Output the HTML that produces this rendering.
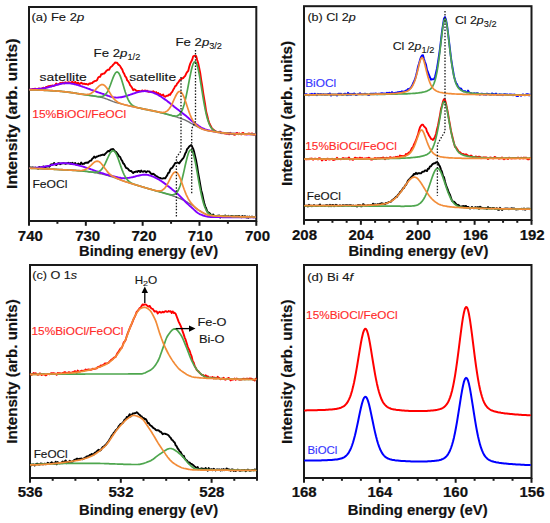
<!DOCTYPE html>
<html><head><meta charset="utf-8"><style>
html,body{margin:0;padding:0;background:#fff;width:550px;height:523px;overflow:hidden}
svg{display:block}
text{font-family:"Liberation Sans",sans-serif;stroke-width:0.25px}
.tl{font-size:14px;font-weight:bold;text-anchor:middle;fill:#111;stroke:#111;stroke-width:0.2px}
.xt{font-size:14.7px;font-weight:bold;text-anchor:middle;fill:#111;stroke:#111;stroke-width:0.2px}
.yt{font-size:14.6px;font-weight:bold;text-anchor:middle;fill:#111;stroke:#111;stroke-width:0.2px}
</style></head><body>
<svg width="550" height="523" viewBox="0 0 550 523">
<rect width="550" height="523" fill="#fff"/>
<rect x="29" y="7" width="227.30" height="214.00" fill="none" stroke="#1a1a1a" stroke-width="2"/>
<line x1="29.00" y1="221" x2="29.00" y2="225.80" stroke="#1a1a1a" stroke-width="2"/>
<line x1="57.41" y1="221" x2="57.41" y2="223.80" stroke="#1a1a1a" stroke-width="2"/>
<line x1="85.83" y1="221" x2="85.83" y2="225.80" stroke="#1a1a1a" stroke-width="2"/>
<line x1="114.24" y1="221" x2="114.24" y2="223.80" stroke="#1a1a1a" stroke-width="2"/>
<line x1="142.65" y1="221" x2="142.65" y2="225.80" stroke="#1a1a1a" stroke-width="2"/>
<line x1="171.06" y1="221" x2="171.06" y2="223.80" stroke="#1a1a1a" stroke-width="2"/>
<line x1="199.48" y1="221" x2="199.48" y2="225.80" stroke="#1a1a1a" stroke-width="2"/>
<line x1="227.89" y1="221" x2="227.89" y2="223.80" stroke="#1a1a1a" stroke-width="2"/>
<line x1="256.30" y1="221" x2="256.30" y2="225.80" stroke="#1a1a1a" stroke-width="2"/>
<text x="30.3" y="240.6" class="tl" textLength="25" lengthAdjust="spacingAndGlyphs">740</text>
<text x="87.7" y="240.6" class="tl" textLength="25" lengthAdjust="spacingAndGlyphs">730</text>
<text x="144" y="240.6" class="tl" textLength="25" lengthAdjust="spacingAndGlyphs">720</text>
<text x="200.3" y="240.6" class="tl" textLength="25" lengthAdjust="spacingAndGlyphs">710</text>
<text x="257.5" y="240.6" class="tl" textLength="25" lengthAdjust="spacingAndGlyphs">700</text>
<rect x="304" y="6.2" width="227.50" height="213.80" fill="none" stroke="#1a1a1a" stroke-width="2"/>
<line x1="304.00" y1="220" x2="304.00" y2="224.80" stroke="#1a1a1a" stroke-width="2"/>
<line x1="318.22" y1="220" x2="318.22" y2="222.80" stroke="#1a1a1a" stroke-width="2"/>
<line x1="332.44" y1="220" x2="332.44" y2="222.80" stroke="#1a1a1a" stroke-width="2"/>
<line x1="346.66" y1="220" x2="346.66" y2="222.80" stroke="#1a1a1a" stroke-width="2"/>
<line x1="360.88" y1="220" x2="360.88" y2="224.80" stroke="#1a1a1a" stroke-width="2"/>
<line x1="375.09" y1="220" x2="375.09" y2="222.80" stroke="#1a1a1a" stroke-width="2"/>
<line x1="389.31" y1="220" x2="389.31" y2="222.80" stroke="#1a1a1a" stroke-width="2"/>
<line x1="403.53" y1="220" x2="403.53" y2="222.80" stroke="#1a1a1a" stroke-width="2"/>
<line x1="417.75" y1="220" x2="417.75" y2="224.80" stroke="#1a1a1a" stroke-width="2"/>
<line x1="431.97" y1="220" x2="431.97" y2="222.80" stroke="#1a1a1a" stroke-width="2"/>
<line x1="446.19" y1="220" x2="446.19" y2="222.80" stroke="#1a1a1a" stroke-width="2"/>
<line x1="460.41" y1="220" x2="460.41" y2="222.80" stroke="#1a1a1a" stroke-width="2"/>
<line x1="474.62" y1="220" x2="474.62" y2="224.80" stroke="#1a1a1a" stroke-width="2"/>
<line x1="488.84" y1="220" x2="488.84" y2="222.80" stroke="#1a1a1a" stroke-width="2"/>
<line x1="503.06" y1="220" x2="503.06" y2="222.80" stroke="#1a1a1a" stroke-width="2"/>
<line x1="517.28" y1="220" x2="517.28" y2="222.80" stroke="#1a1a1a" stroke-width="2"/>
<line x1="531.50" y1="220" x2="531.50" y2="224.80" stroke="#1a1a1a" stroke-width="2"/>
<text x="304.5" y="239.5" class="tl" textLength="25" lengthAdjust="spacingAndGlyphs">208</text>
<text x="361" y="239.5" class="tl" textLength="25" lengthAdjust="spacingAndGlyphs">204</text>
<text x="418.3" y="239.5" class="tl" textLength="25" lengthAdjust="spacingAndGlyphs">200</text>
<text x="475.6" y="239.5" class="tl" textLength="25" lengthAdjust="spacingAndGlyphs">196</text>
<text x="532.2" y="239.5" class="tl" textLength="25" lengthAdjust="spacingAndGlyphs">192</text>
<rect x="30" y="265" width="227.00" height="213.00" fill="none" stroke="#1a1a1a" stroke-width="2"/>
<line x1="30.00" y1="478" x2="30.00" y2="482.80" stroke="#1a1a1a" stroke-width="2"/>
<line x1="52.70" y1="478" x2="52.70" y2="480.80" stroke="#1a1a1a" stroke-width="2"/>
<line x1="75.40" y1="478" x2="75.40" y2="480.80" stroke="#1a1a1a" stroke-width="2"/>
<line x1="98.10" y1="478" x2="98.10" y2="480.80" stroke="#1a1a1a" stroke-width="2"/>
<line x1="120.80" y1="478" x2="120.80" y2="482.80" stroke="#1a1a1a" stroke-width="2"/>
<line x1="143.50" y1="478" x2="143.50" y2="480.80" stroke="#1a1a1a" stroke-width="2"/>
<line x1="166.20" y1="478" x2="166.20" y2="480.80" stroke="#1a1a1a" stroke-width="2"/>
<line x1="188.90" y1="478" x2="188.90" y2="480.80" stroke="#1a1a1a" stroke-width="2"/>
<line x1="211.60" y1="478" x2="211.60" y2="482.80" stroke="#1a1a1a" stroke-width="2"/>
<line x1="234.30" y1="478" x2="234.30" y2="480.80" stroke="#1a1a1a" stroke-width="2"/>
<line x1="257.00" y1="478" x2="257.00" y2="480.80" stroke="#1a1a1a" stroke-width="2"/>
<text x="30.2" y="497.4" class="tl" textLength="25" lengthAdjust="spacingAndGlyphs">536</text>
<text x="121" y="497.4" class="tl" textLength="25" lengthAdjust="spacingAndGlyphs">532</text>
<text x="211.8" y="497.4" class="tl" textLength="25" lengthAdjust="spacingAndGlyphs">528</text>
<rect x="304" y="265" width="227.50" height="213.00" fill="none" stroke="#1a1a1a" stroke-width="2"/>
<line x1="304.00" y1="478" x2="304.00" y2="482.80" stroke="#1a1a1a" stroke-width="2"/>
<line x1="322.96" y1="478" x2="322.96" y2="480.80" stroke="#1a1a1a" stroke-width="2"/>
<line x1="341.92" y1="478" x2="341.92" y2="480.80" stroke="#1a1a1a" stroke-width="2"/>
<line x1="360.88" y1="478" x2="360.88" y2="480.80" stroke="#1a1a1a" stroke-width="2"/>
<line x1="379.83" y1="478" x2="379.83" y2="482.80" stroke="#1a1a1a" stroke-width="2"/>
<line x1="398.79" y1="478" x2="398.79" y2="480.80" stroke="#1a1a1a" stroke-width="2"/>
<line x1="417.75" y1="478" x2="417.75" y2="480.80" stroke="#1a1a1a" stroke-width="2"/>
<line x1="436.71" y1="478" x2="436.71" y2="480.80" stroke="#1a1a1a" stroke-width="2"/>
<line x1="455.67" y1="478" x2="455.67" y2="482.80" stroke="#1a1a1a" stroke-width="2"/>
<line x1="474.62" y1="478" x2="474.62" y2="480.80" stroke="#1a1a1a" stroke-width="2"/>
<line x1="493.58" y1="478" x2="493.58" y2="480.80" stroke="#1a1a1a" stroke-width="2"/>
<line x1="512.54" y1="478" x2="512.54" y2="480.80" stroke="#1a1a1a" stroke-width="2"/>
<line x1="531.50" y1="478" x2="531.50" y2="482.80" stroke="#1a1a1a" stroke-width="2"/>
<text x="304.2" y="497.4" class="tl" textLength="25" lengthAdjust="spacingAndGlyphs">168</text>
<text x="379.9" y="497.4" class="tl" textLength="25" lengthAdjust="spacingAndGlyphs">164</text>
<text x="455.5" y="497.4" class="tl" textLength="25" lengthAdjust="spacingAndGlyphs">160</text>
<text x="532" y="497.4" class="tl" textLength="25" lengthAdjust="spacingAndGlyphs">156</text>
<text x="148.6" y="255.6" class="xt" textLength="139" lengthAdjust="spacingAndGlyphs">Binding energy (eV)</text>
<text x="418.4" y="256.2" class="xt" textLength="140" lengthAdjust="spacingAndGlyphs">Binding energy (eV)</text>
<text x="148.6" y="514.6" class="xt" textLength="139" lengthAdjust="spacingAndGlyphs">Binding energy (eV)</text>
<text x="417.7" y="515.4" class="xt" textLength="140" lengthAdjust="spacingAndGlyphs">Binding energy (eV)</text>
<text transform="translate(17.0,113.65) rotate(-90)" x="0" y="0" class="yt" textLength="150.49999999999997" lengthAdjust="spacingAndGlyphs">Intensity (arb. units)</text>
<text transform="translate(292.4,113.50000000000001) rotate(-90)" x="0" y="0" class="yt" textLength="145.0" lengthAdjust="spacingAndGlyphs">Intensity (arb. units)</text>
<text transform="translate(17.0,371.45) rotate(-90)" x="0" y="0" class="yt" textLength="144.49999999999997" lengthAdjust="spacingAndGlyphs">Intensity (arb. units)</text>
<text transform="translate(292.4,371.75) rotate(-90)" x="0" y="0" class="yt" textLength="144.50000000000003" lengthAdjust="spacingAndGlyphs">Intensity (arb. units)</text>
<path d="M30.2,89.5 L31.2,89.6 L32.2,89.2 L33.2,88.9 L34.2,89.0 L35.2,88.7 L36.2,89.2 L37.2,89.8 L38.2,88.7 L39.2,88.5 L40.2,89.0 L41.2,88.8 L42.2,88.5 L43.2,87.7 L44.2,88.1 L45.2,88.3 L46.2,86.9 L47.2,87.2 L48.2,86.2 L49.2,86.3 L50.2,85.7 L51.2,86.3 L52.2,85.4 L53.2,86.0 L54.2,85.6 L55.2,85.2 L56.2,83.6 L57.2,84.4 L58.2,84.3 L59.2,84.1 L60.2,83.0 L61.2,83.3 L62.2,82.8 L63.2,82.7 L64.2,83.5 L65.2,82.3 L66.2,82.6 L67.2,83.1 L68.2,82.2 L69.2,82.4 L70.2,82.6 L71.2,82.6 L72.2,81.9 L73.2,82.6 L74.2,83.4 L75.2,81.9 L76.2,83.3 L77.2,83.0 L78.2,82.6 L79.2,84.2 L80.2,83.6 L81.2,82.7 L82.2,83.5 L83.2,83.9 L84.2,83.6 L85.2,84.2 L86.2,83.9 L87.2,84.3 L88.2,84.7 L89.2,83.5 L90.2,83.8 L91.2,83.1 L92.2,83.1 L93.2,81.8 L94.2,81.5 L95.2,80.9 L96.2,80.7 L97.2,79.9 L98.2,77.5 L99.2,76.9 L100.2,76.7 L101.2,74.3 L102.2,74.2 L103.2,73.6 L104.2,73.5 L105.2,72.5 L106.2,71.1 L107.2,70.3 L108.2,69.6 L109.2,69.7 L110.2,67.7 L111.2,66.7 L112.2,66.0 L113.2,64.6 L114.2,63.6 L115.2,62.4 L116.2,62.8 L117.2,62.8 L118.2,64.4 L119.2,65.1 L120.2,66.1 L121.2,68.1 L122.2,69.4 L123.2,72.2 L124.2,73.8 L125.2,76.3 L126.2,77.4 L127.2,80.4 L128.2,81.3 L129.2,82.9 L130.2,85.4 L131.2,86.4 L132.2,88.1 L133.2,90.2 L134.2,89.2 L135.2,89.8 L136.2,90.7 L137.2,91.1 L138.2,90.9 L139.2,90.9 L140.2,91.4 L141.2,91.3 L142.2,90.4 L143.2,91.0 L144.2,91.0 L145.2,90.4 L146.2,91.2 L147.2,90.7 L148.2,91.8 L149.2,91.6 L150.2,91.7 L151.2,91.6 L152.2,92.1 L153.2,91.3 L154.2,92.1 L155.2,93.2 L156.2,92.1 L157.2,94.1 L158.2,93.0 L159.2,94.7 L160.2,94.1 L161.2,95.3 L162.2,95.3 L163.2,94.6 L164.2,96.4 L165.2,96.7 L166.2,95.9 L167.2,95.7 L168.2,95.5 L169.2,94.5 L170.2,94.8 L171.2,92.9 L172.2,91.8 L173.2,89.8 L174.2,88.2 L175.2,86.1 L176.2,85.7 L177.2,83.4 L178.2,82.6 L179.2,80.9 L180.2,79.6 L181.2,79.1 L182.2,78.4 L183.2,78.0 L184.2,76.9 L185.2,75.8 L186.2,73.6 L187.2,72.0 L188.2,70.9 L189.2,66.9 L190.2,63.7 L191.2,61.7 L192.2,59.8 L193.2,56.3 L194.2,55.9 L195.2,55.7 L196.2,56.2 L197.2,60.0 L198.2,63.2 L199.2,67.9 L200.2,73.0 L201.2,79.9 L202.2,86.0 L203.2,93.0 L204.2,99.0 L205.2,105.0 L206.2,111.8 L207.2,115.5 L208.2,119.8 L209.2,122.8 L210.2,125.0 L211.2,126.9 L212.2,128.9 L213.2,129.4 L214.2,130.3 L215.2,131.0 L216.2,132.0 L217.2,132.1 L218.2,132.2 L219.2,131.9 L220.2,131.6 L221.2,133.1 L222.2,133.2 L223.2,132.8 L224.2,133.3 L225.2,133.5 L226.2,133.6 L227.2,133.8 L228.2,133.1 L229.2,134.3 L230.2,132.8 L231.2,134.0 L232.2,133.9 L233.2,134.1 L234.2,134.7 L235.2,134.6 L236.2,133.2 L237.2,132.9 L238.2,134.3 L239.2,133.4 L240.2,134.0 L241.2,134.5 L242.2,133.1 L243.2,132.9 L244.2,134.2 L245.2,134.2 L246.2,134.0 L247.2,134.2 L248.2,133.7 L249.2,133.4 L250.2,134.2 L251.2,133.7 L252.2,133.4 L253.2,134.6 L254.2,134.3 L255.2,134.5" fill="none" stroke="#ff0000" stroke-width="1.9" stroke-linejoin="round" stroke-linecap="round" />
<path d="M30.2,89.8 L31.2,89.8 L32.2,89.8 L33.2,89.8 L34.2,89.9 L35.2,89.9 L36.2,89.9 L37.2,89.9 L38.2,90.0 L39.2,90.0 L40.2,90.1 L41.2,90.1 L42.2,90.1 L43.2,90.2 L44.2,90.3 L45.2,90.3 L46.2,90.4 L47.2,90.4 L48.2,90.5 L49.2,90.5 L50.2,90.6 L51.2,90.7 L52.2,90.7 L53.2,90.8 L54.2,90.9 L55.2,91.0 L56.2,91.0 L57.2,91.1 L58.2,91.2 L59.2,91.2 L60.2,91.3 L61.2,91.4 L62.2,91.5 L63.2,91.6 L64.2,91.7 L65.2,91.8 L66.2,91.9 L67.2,92.0 L68.2,92.2 L69.2,92.3 L70.2,92.4 L71.2,92.6 L72.2,92.7 L73.2,92.9 L74.2,93.0 L75.2,93.2 L76.2,93.3 L77.2,93.5 L78.2,93.6 L79.2,93.8 L80.2,94.0 L81.2,94.1 L82.2,94.3 L83.2,94.4 L84.2,94.6 L85.2,94.7 L86.2,94.9 L87.2,95.0 L88.2,95.2 L89.2,95.3 L90.2,95.5 L91.2,95.6 L92.2,95.8 L93.2,95.9 L94.2,96.1 L95.2,96.2 L96.2,96.4 L97.2,96.6 L98.2,96.8 L99.2,96.9 L100.2,97.2 L101.2,97.4 L102.2,97.6 L103.2,97.9 L104.2,98.2 L105.2,98.5 L106.2,98.8 L107.2,99.2 L108.2,99.6 L109.2,100.0 L110.2,100.4 L111.2,100.8 L112.2,101.2 L113.2,101.6 L114.2,101.9 L115.2,102.3 L116.2,102.6 L117.2,102.8 L118.2,103.1 L119.2,103.4 L120.2,103.6 L121.2,103.9 L122.2,104.2 L123.2,104.4 L124.2,104.6 L125.2,104.9 L126.2,105.1 L127.2,105.3 L128.2,105.6 L129.2,105.8 L130.2,106.0 L131.2,106.3 L132.2,106.5 L133.2,106.7 L134.2,106.9 L135.2,107.2 L136.2,107.4 L137.2,107.6 L138.2,107.8 L139.2,108.0 L140.2,108.2 L141.2,108.5 L142.2,108.7 L143.2,108.9 L144.2,109.1 L145.2,109.3 L146.2,109.5 L147.2,109.7 L148.2,109.9 L149.2,110.1 L150.2,110.3 L151.2,110.5 L152.2,110.7 L153.2,110.9 L154.2,111.1 L155.2,111.3 L156.2,111.5 L157.2,111.8 L158.2,112.0 L159.2,112.2 L160.2,112.5 L161.2,112.7 L162.2,112.9 L163.2,113.2 L164.2,113.5 L165.2,113.7 L166.2,114.0 L167.2,114.3 L168.2,114.5 L169.2,114.8 L170.2,115.1 L171.2,115.4 L172.2,115.7 L173.2,116.0 L174.2,116.3 L175.2,116.6 L176.2,116.9 L177.2,117.2 L178.2,117.6 L179.2,117.9 L180.2,118.2 L181.2,118.6 L182.2,118.9 L183.2,119.3 L184.2,119.7 L185.2,120.1 L186.2,120.6 L187.2,121.1 L188.2,121.6 L189.2,122.2 L190.2,122.8 L191.2,123.4 L192.2,123.9 L193.2,124.5 L194.2,125.0 L195.2,125.5 L196.2,126.1 L197.2,126.6 L198.2,127.2 L199.2,127.7 L200.2,128.2 L201.2,128.6 L202.2,129.1 L203.2,129.4 L204.2,129.7 L205.2,130.0 L206.2,130.3 L207.2,130.5 L208.2,130.7 L209.2,130.9 L210.2,131.1 L211.2,131.2 L212.2,131.4 L213.2,131.5 L214.2,131.7 L215.2,131.8 L216.2,132.0 L217.2,132.1 L218.2,132.3 L219.2,132.4 L220.2,132.5 L221.2,132.7 L222.2,132.8 L223.2,132.9 L224.2,133.0 L225.2,133.1 L226.2,133.2 L227.2,133.3 L228.2,133.4 L229.2,133.5 L230.2,133.5 L231.2,133.6 L232.2,133.6 L233.2,133.7 L234.2,133.7 L235.2,133.8 L236.2,133.8 L237.2,133.8 L238.2,133.9 L239.2,133.9 L240.2,134.0 L241.2,134.0 L242.2,134.0 L243.2,134.1 L244.2,134.1 L245.2,134.1 L246.2,134.2 L247.2,134.2 L248.2,134.2 L249.2,134.2 L250.2,134.2 L251.2,134.3 L252.2,134.3 L253.2,134.3 L254.2,134.3 L255.2,134.3" fill="none" stroke="#707070" stroke-width="1.4" stroke-linejoin="round" stroke-linecap="round" />
<path d="M30.2,89.5 L31.2,89.5 L32.2,89.4 L33.2,89.3 L34.2,89.3 L35.2,89.2 L36.2,89.1 L37.2,89.0 L38.2,88.9 L39.2,88.8 L40.2,88.7 L41.2,88.6 L42.2,88.4 L43.2,88.3 L44.2,88.1 L45.2,87.9 L46.2,87.7 L47.2,87.5 L48.2,87.2 L49.2,87.0 L50.2,86.7 L51.2,86.5 L52.2,86.2 L53.2,85.9 L54.2,85.6 L55.2,85.3 L56.2,85.0 L57.2,84.8 L58.2,84.5 L59.2,84.2 L60.2,84.0 L61.2,83.8 L62.2,83.6 L63.2,83.4 L64.2,83.3 L65.2,83.2 L66.2,83.2 L67.2,83.2 L68.2,83.2 L69.2,83.3 L70.2,83.4 L71.2,83.6 L72.2,83.8 L73.2,83.9 L74.2,84.2 L75.2,84.4 L76.2,84.7 L77.2,84.9 L78.2,85.2 L79.2,85.5 L80.2,85.8 L81.2,86.2 L82.2,86.5 L83.2,86.9 L84.2,87.2 L85.2,87.6 L86.2,87.9 L87.2,88.3 L88.2,88.7 L89.2,89.0 L90.2,89.4 L91.2,89.8 L92.2,90.1 L93.2,90.5 L94.2,90.9 L95.2,91.2 L96.2,91.6 L97.2,92.0 L98.2,92.3 L99.2,92.7 L100.2,93.0 L101.2,93.3 L102.2,93.7 L103.2,94.0 L104.2,94.4 L105.2,94.8 L106.2,95.2 L107.2,95.5 L108.2,95.9 L109.2,96.2 L110.2,96.6 L111.2,96.8 L112.2,97.1 L113.2,97.3 L114.2,97.4 L115.2,97.5 L116.2,97.6 L117.2,97.6 L118.2,97.5 L119.2,97.4 L120.2,97.3 L121.2,97.2 L122.2,97.0 L123.2,96.8 L124.2,96.5 L125.2,96.3 L126.2,96.0 L127.2,95.7 L128.2,95.3 L129.2,95.0 L130.2,94.7 L131.2,94.3 L132.2,94.0 L133.2,93.6 L134.2,93.3 L135.2,93.0 L136.2,92.7 L137.2,92.4 L138.2,92.1 L139.2,91.8 L140.2,91.6 L141.2,91.4 L142.2,91.3 L143.2,91.2 L144.2,91.1 L145.2,91.1 L146.2,91.2 L147.2,91.2 L148.2,91.4 L149.2,91.6 L150.2,91.8 L151.2,92.1 L152.2,92.4 L153.2,92.7 L154.2,93.1 L155.2,93.5 L156.2,94.0 L157.2,94.5 L158.2,95.0 L159.2,95.6 L160.2,96.2 L161.2,96.8 L162.2,97.5 L163.2,98.2 L164.2,98.9 L165.2,99.6 L166.2,100.3 L167.2,101.1 L168.2,101.9 L169.2,102.6 L170.2,103.4 L171.2,104.2 L172.2,105.0 L173.2,105.8 L174.2,106.7 L175.2,107.5 L176.2,108.3 L177.2,109.1 L178.2,109.8 L179.2,110.6 L180.2,111.4 L181.2,112.2 L182.2,112.9 L183.2,113.7 L184.2,114.5 L185.2,115.3 L186.2,116.1 L187.2,116.9 L188.2,117.8 L189.2,118.7 L190.2,119.6 L191.2,120.4 L192.2,121.2 L193.2,122.0 L194.2,122.7 L195.2,123.5 L196.2,124.2 L197.2,124.9 L198.2,125.6 L199.2,126.3 L200.2,126.9 L201.2,127.5 L202.2,128.0 L203.2,128.5 L204.2,128.9 L205.2,129.3 L206.2,129.6 L207.2,129.9 L208.2,130.2 L209.2,130.4 L210.2,130.7 L211.2,130.9 L212.2,131.1 L213.2,131.3 L214.2,131.4 L215.2,131.6 L216.2,131.8 L217.2,132.0 L218.2,132.1 L219.2,132.3 L220.2,132.4 L221.2,132.6 L222.2,132.7 L223.2,132.9 L224.2,133.0 L225.2,133.1 L226.2,133.2 L227.2,133.3 L228.2,133.4 L229.2,133.4 L230.2,133.5 L231.2,133.5 L232.2,133.6 L233.2,133.6 L234.2,133.7 L235.2,133.7 L236.2,133.8 L237.2,133.8 L238.2,133.9 L239.2,133.9 L240.2,134.0 L241.2,134.0 L242.2,134.0 L243.2,134.1 L244.2,134.1 L245.2,134.1 L246.2,134.2 L247.2,134.2 L248.2,134.2 L249.2,134.2 L250.2,134.2 L251.2,134.3 L252.2,134.3 L253.2,134.3 L254.2,134.3 L255.2,134.3" fill="none" stroke="#8000ff" stroke-width="1.9" stroke-linejoin="round" stroke-linecap="round" />
<path d="M30.2,89.8 L31.2,89.8 L32.2,89.8 L33.2,89.8 L34.2,89.9 L35.2,89.9 L36.2,89.9 L37.2,89.9 L38.2,90.0 L39.2,90.0 L40.2,90.1 L41.2,90.1 L42.2,90.1 L43.2,90.2 L44.2,90.3 L45.2,90.3 L46.2,90.4 L47.2,90.4 L48.2,90.5 L49.2,90.5 L50.2,90.6 L51.2,90.7 L52.2,90.7 L53.2,90.8 L54.2,90.9 L55.2,91.0 L56.2,91.0 L57.2,91.1 L58.2,91.2 L59.2,91.2 L60.2,91.3 L61.2,91.4 L62.2,91.5 L63.2,91.6 L64.2,91.7 L65.2,91.8 L66.2,91.9 L67.2,92.0 L68.2,92.2 L69.2,92.3 L70.2,92.4 L71.2,92.6 L72.2,92.7 L73.2,92.9 L74.2,93.0 L75.2,93.2 L76.2,93.3 L77.2,93.5 L78.2,93.6 L79.2,93.8 L80.2,94.0 L81.2,94.1 L82.2,94.3 L83.2,94.4 L84.2,94.6 L85.2,94.7 L86.2,94.9 L87.2,95.0 L88.2,95.2 L89.2,95.3 L90.2,95.5 L91.2,95.6 L92.2,95.7 L93.2,95.9 L94.2,96.0 L95.2,96.2 L96.2,96.3 L97.2,96.5 L98.2,96.6 L99.2,96.7 L100.2,96.7 L101.2,96.6 L102.2,96.4 L103.2,96.1 L104.2,95.5 L105.2,94.7 L106.2,93.6 L107.2,92.1 L108.2,90.3 L109.2,88.0 L110.2,85.5 L111.2,82.8 L112.2,80.0 L113.2,77.4 L114.2,75.1 L115.2,73.3 L116.2,72.2 L117.2,71.9 L118.2,72.4 L119.2,73.8 L120.2,75.9 L121.2,78.6 L122.2,81.8 L123.2,85.1 L124.2,88.5 L125.2,91.8 L126.2,94.7 L127.2,97.4 L128.2,99.6 L129.2,101.5 L130.2,103.0 L131.2,104.2 L132.2,105.1 L133.2,105.8 L134.2,106.4 L135.2,106.8 L136.2,107.2 L137.2,107.5 L138.2,107.8 L139.2,108.0 L140.2,108.2 L141.2,108.4 L142.2,108.7 L143.2,108.9 L144.2,109.1 L145.2,109.3 L146.2,109.5 L147.2,109.7 L148.2,109.9 L149.2,110.1 L150.2,110.3 L151.2,110.5 L152.2,110.7 L153.2,110.9 L154.2,111.1 L155.2,111.3 L156.2,111.5 L157.2,111.8 L158.2,112.0 L159.2,112.2 L160.2,112.5 L161.2,112.7 L162.2,112.9 L163.2,113.2 L164.2,113.5 L165.2,113.7 L166.2,114.0 L167.2,114.3 L168.2,114.5 L169.2,114.8 L170.2,115.1 L171.2,115.3 L172.2,115.6 L173.2,115.8 L174.2,115.9 L175.2,116.0 L176.2,116.0 L177.2,115.8 L178.2,115.4 L179.2,114.7 L180.2,113.6 L181.2,112.1 L182.2,110.1 L183.2,107.5 L184.2,104.3 L185.2,100.4 L186.2,96.0 L187.2,91.2 L188.2,86.0 L189.2,80.7 L190.2,75.6 L191.2,70.8 L192.2,66.8 L193.2,63.8 L194.2,62.1 L195.2,61.7 L196.2,62.9 L197.2,65.4 L198.2,69.3 L199.2,74.2 L200.2,79.8 L201.2,85.9 L202.2,92.2 L203.2,98.4 L204.2,104.2 L205.2,109.4 L206.2,114.1 L207.2,118.0 L208.2,121.3 L209.2,124.0 L210.2,126.1 L211.2,127.8 L212.2,129.0 L213.2,129.9 L214.2,130.6 L215.2,131.2 L216.2,131.6 L217.2,131.9 L218.2,132.1 L219.2,132.3 L220.2,132.5 L221.2,132.6 L222.2,132.8 L223.2,132.9 L224.2,133.0 L225.2,133.1 L226.2,133.2 L227.2,133.3 L228.2,133.4 L229.2,133.5 L230.2,133.5 L231.2,133.6 L232.2,133.6 L233.2,133.7 L234.2,133.7 L235.2,133.8 L236.2,133.8 L237.2,133.8 L238.2,133.9 L239.2,133.9 L240.2,134.0 L241.2,134.0 L242.2,134.0 L243.2,134.1 L244.2,134.1 L245.2,134.1 L246.2,134.2 L247.2,134.2 L248.2,134.2 L249.2,134.2 L250.2,134.2 L251.2,134.3 L252.2,134.3 L253.2,134.3 L254.2,134.3 L255.2,134.3" fill="none" stroke="#4ea64e" stroke-width="1.7" stroke-linejoin="round" stroke-linecap="round" />
<path d="M30.2,89.8 L31.2,89.8 L32.2,89.8 L33.2,89.8 L34.2,89.9 L35.2,89.9 L36.2,89.9 L37.2,89.9 L38.2,90.0 L39.2,90.0 L40.2,90.1 L41.2,90.1 L42.2,90.1 L43.2,90.2 L44.2,90.3 L45.2,90.3 L46.2,90.4 L47.2,90.4 L48.2,90.5 L49.2,90.5 L50.2,90.6 L51.2,90.7 L52.2,90.7 L53.2,90.8 L54.2,90.9 L55.2,91.0 L56.2,91.0 L57.2,91.1 L58.2,91.2 L59.2,91.2 L60.2,91.3 L61.2,91.4 L62.2,91.5 L63.2,91.6 L64.2,91.7 L65.2,91.8 L66.2,91.9 L67.2,92.0 L68.2,92.2 L69.2,92.3 L70.2,92.4 L71.2,92.6 L72.2,92.7 L73.2,92.9 L74.2,93.0 L75.2,93.2 L76.2,93.3 L77.2,93.5 L78.2,93.6 L79.2,93.8 L80.2,93.9 L81.2,94.1 L82.2,94.2 L83.2,94.3 L84.2,94.4 L85.2,94.5 L86.2,94.5 L87.2,94.4 L88.2,94.3 L89.2,94.1 L90.2,93.7 L91.2,93.2 L92.2,92.6 L93.2,91.9 L94.2,91.0 L95.2,90.0 L96.2,88.9 L97.2,87.8 L98.2,86.8 L99.2,85.9 L100.2,85.2 L101.2,84.7 L102.2,84.5 L103.2,84.7 L104.2,85.2 L105.2,86.1 L106.2,87.2 L107.2,88.6 L108.2,90.2 L109.2,91.8 L110.2,93.4 L111.2,95.0 L112.2,96.5 L113.2,97.9 L114.2,99.1 L115.2,100.1 L116.2,101.0 L117.2,101.7 L118.2,102.4 L119.2,102.9 L120.2,103.3 L121.2,103.7 L122.2,104.0 L123.2,104.3 L124.2,104.6 L125.2,104.8 L126.2,105.1 L127.2,105.3 L128.2,105.6 L129.2,105.8 L130.2,106.0 L131.2,106.3 L132.2,106.5 L133.2,106.7 L134.2,106.9 L135.2,107.2 L136.2,107.4 L137.2,107.6 L138.2,107.8 L139.2,108.0 L140.2,108.2 L141.2,108.5 L142.2,108.7 L143.2,108.9 L144.2,109.1 L145.2,109.3 L146.2,109.5 L147.2,109.7 L148.2,109.9 L149.2,110.1 L150.2,110.3 L151.2,110.5 L152.2,110.7 L153.2,110.9 L154.2,111.1 L155.2,111.3 L156.2,111.5 L157.2,111.7 L158.2,111.9 L159.2,112.1 L160.2,112.3 L161.2,112.4 L162.2,112.5 L163.2,112.4 L164.2,112.3 L165.2,112.1 L166.2,111.6 L167.2,110.9 L168.2,110.0 L169.2,108.8 L170.2,107.3 L171.2,105.6 L172.2,103.6 L173.2,101.4 L174.2,99.2 L175.2,97.0 L176.2,95.0 L177.2,93.3 L178.2,92.1 L179.2,91.5 L180.2,91.5 L181.2,92.2 L182.2,93.5 L183.2,95.4 L184.2,97.7 L185.2,100.5 L186.2,103.4 L187.2,106.5 L188.2,109.5 L189.2,112.4 L190.2,115.0 L191.2,117.4 L192.2,119.4 L193.2,121.1 L194.2,122.6 L195.2,123.9 L196.2,124.9 L197.2,125.9 L198.2,126.7 L199.2,127.4 L200.2,128.0 L201.2,128.5 L202.2,129.0 L203.2,129.4 L204.2,129.7 L205.2,130.0 L206.2,130.2 L207.2,130.5 L208.2,130.7 L209.2,130.9 L210.2,131.1 L211.2,131.2 L212.2,131.4 L213.2,131.5 L214.2,131.7 L215.2,131.8 L216.2,132.0 L217.2,132.1 L218.2,132.3 L219.2,132.4 L220.2,132.5 L221.2,132.7 L222.2,132.8 L223.2,132.9 L224.2,133.0 L225.2,133.1 L226.2,133.2 L227.2,133.3 L228.2,133.4 L229.2,133.5 L230.2,133.5 L231.2,133.6 L232.2,133.6 L233.2,133.7 L234.2,133.7 L235.2,133.8 L236.2,133.8 L237.2,133.8 L238.2,133.9 L239.2,133.9 L240.2,134.0 L241.2,134.0 L242.2,134.0 L243.2,134.1 L244.2,134.1 L245.2,134.1 L246.2,134.2 L247.2,134.2 L248.2,134.2 L249.2,134.2 L250.2,134.2 L251.2,134.3 L252.2,134.3 L253.2,134.3 L254.2,134.3 L255.2,134.3" fill="none" stroke="#f28c38" stroke-width="1.7" stroke-linejoin="round" stroke-linecap="round" />
<path d="M30.2,167.5 L31.2,167.7 L32.2,167.5 L33.2,167.5 L34.2,168.1 L35.2,167.5 L36.2,168.1 L37.2,168.0 L38.2,168.9 L39.2,166.9 L40.2,168.1 L41.2,167.4 L42.2,167.3 L43.2,166.4 L44.2,166.8 L45.2,167.3 L46.2,166.6 L47.2,166.5 L48.2,166.1 L49.2,166.7 L50.2,165.8 L51.2,164.3 L52.2,164.9 L53.2,164.0 L54.2,163.0 L55.2,164.3 L56.2,165.1 L57.2,164.2 L58.2,163.3 L59.2,163.3 L60.2,164.2 L61.2,163.6 L62.2,163.4 L63.2,163.3 L64.2,163.3 L65.2,163.7 L66.2,163.5 L67.2,163.4 L68.2,162.7 L69.2,163.6 L70.2,163.0 L71.2,164.0 L72.2,162.8 L73.2,163.5 L74.2,163.6 L75.2,163.0 L76.2,164.7 L77.2,164.6 L78.2,163.6 L79.2,164.4 L80.2,164.2 L81.2,162.5 L82.2,164.1 L83.2,163.8 L84.2,163.7 L85.2,162.8 L86.2,162.9 L87.2,162.5 L88.2,162.7 L89.2,161.5 L90.2,160.6 L91.2,160.6 L92.2,158.7 L93.2,158.0 L94.2,156.5 L95.2,157.7 L96.2,156.9 L97.2,156.5 L98.2,156.1 L99.2,155.6 L100.2,155.5 L101.2,155.1 L102.2,154.8 L103.2,154.6 L104.2,155.0 L105.2,153.9 L106.2,152.8 L107.2,151.8 L108.2,150.9 L109.2,151.4 L110.2,150.1 L111.2,149.4 L112.2,149.1 L113.2,149.0 L114.2,150.3 L115.2,151.6 L116.2,152.0 L117.2,153.3 L118.2,154.7 L119.2,156.4 L120.2,157.0 L121.2,159.5 L122.2,160.8 L123.2,163.4 L124.2,164.1 L125.2,166.3 L126.2,168.1 L127.2,168.3 L128.2,169.1 L129.2,170.4 L130.2,171.0 L131.2,170.9 L132.2,172.1 L133.2,173.1 L134.2,172.0 L135.2,172.0 L136.2,171.4 L137.2,172.0 L138.2,171.0 L139.2,170.9 L140.2,172.0 L141.2,170.6 L142.2,171.6 L143.2,171.8 L144.2,171.1 L145.2,171.3 L146.2,172.3 L147.2,171.3 L148.2,171.4 L149.2,171.4 L150.2,172.6 L151.2,173.9 L152.2,174.2 L153.2,173.7 L154.2,174.4 L155.2,175.2 L156.2,176.2 L157.2,176.5 L158.2,177.3 L159.2,177.9 L160.2,177.9 L161.2,178.3 L162.2,178.6 L163.2,178.3 L164.2,178.3 L165.2,178.4 L166.2,176.8 L167.2,175.4 L168.2,173.0 L169.2,172.6 L170.2,169.6 L171.2,168.2 L172.2,167.9 L173.2,166.3 L174.2,164.7 L175.2,162.9 L176.2,163.0 L177.2,162.4 L178.2,162.8 L179.2,163.4 L180.2,161.9 L181.2,160.6 L182.2,159.3 L183.2,158.4 L184.2,156.4 L185.2,153.6 L186.2,151.9 L187.2,148.9 L188.2,148.1 L189.2,146.5 L190.2,145.7 L191.2,145.0 L192.2,146.8 L193.2,148.8 L194.2,152.1 L195.2,156.4 L196.2,160.8 L197.2,166.3 L198.2,173.3 L199.2,178.6 L200.2,184.5 L201.2,190.2 L202.2,193.7 L203.2,198.6 L204.2,202.9 L205.2,206.3 L206.2,208.5 L207.2,211.4 L208.2,212.5 L209.2,212.9 L210.2,213.8 L211.2,215.3 L212.2,215.5 L213.2,214.4 L214.2,216.4 L215.2,216.1 L216.2,216.7 L217.2,215.8 L218.2,215.9 L219.2,215.5 L220.2,217.6 L221.2,216.1 L222.2,217.1 L223.2,215.9 L224.2,216.4 L225.2,215.4 L226.2,216.2 L227.2,217.0 L228.2,215.8 L229.2,217.1 L230.2,216.7 L231.2,216.0 L232.2,216.3 L233.2,216.3 L234.2,216.6 L235.2,216.3 L236.2,216.2 L237.2,216.5 L238.2,216.2 L239.2,216.0 L240.2,216.7 L241.2,217.3 L242.2,216.0 L243.2,216.8 L244.2,216.5 L245.2,216.3 L246.2,217.4 L247.2,216.6 L248.2,217.8 L249.2,216.5 L250.2,217.2 L251.2,216.8 L252.2,216.6 L253.2,217.3 L254.2,216.9 L255.2,217.3" fill="none" stroke="#000000" stroke-width="1.9" stroke-linejoin="round" stroke-linecap="round" />
<path d="M30.2,168.2 L31.2,168.3 L32.2,168.3 L33.2,168.4 L34.2,168.4 L35.2,168.4 L36.2,168.5 L37.2,168.5 L38.2,168.6 L39.2,168.6 L40.2,168.6 L41.2,168.7 L42.2,168.7 L43.2,168.8 L44.2,168.8 L45.2,168.9 L46.2,168.9 L47.2,169.0 L48.2,169.0 L49.2,169.1 L50.2,169.1 L51.2,169.2 L52.2,169.2 L53.2,169.2 L54.2,169.3 L55.2,169.4 L56.2,169.4 L57.2,169.5 L58.2,169.5 L59.2,169.6 L60.2,169.6 L61.2,169.7 L62.2,169.7 L63.2,169.8 L64.2,169.8 L65.2,169.9 L66.2,169.9 L67.2,170.0 L68.2,170.0 L69.2,170.1 L70.2,170.1 L71.2,170.2 L72.2,170.3 L73.2,170.3 L74.2,170.4 L75.2,170.4 L76.2,170.5 L77.2,170.6 L78.2,170.7 L79.2,170.7 L80.2,170.8 L81.2,170.9 L82.2,171.0 L83.2,171.1 L84.2,171.2 L85.2,171.3 L86.2,171.4 L87.2,171.5 L88.2,171.6 L89.2,171.8 L90.2,171.9 L91.2,172.1 L92.2,172.2 L93.2,172.4 L94.2,172.6 L95.2,172.7 L96.2,172.9 L97.2,173.1 L98.2,173.3 L99.2,173.5 L100.2,173.7 L101.2,173.9 L102.2,174.1 L103.2,174.4 L104.2,174.6 L105.2,174.9 L106.2,175.2 L107.2,175.4 L108.2,175.7 L109.2,176.0 L110.2,176.3 L111.2,176.6 L112.2,176.9 L113.2,177.2 L114.2,177.6 L115.2,177.9 L116.2,178.3 L117.2,178.6 L118.2,179.0 L119.2,179.4 L120.2,179.8 L121.2,180.1 L122.2,180.5 L123.2,180.9 L124.2,181.2 L125.2,181.6 L126.2,181.9 L127.2,182.2 L128.2,182.5 L129.2,182.9 L130.2,183.2 L131.2,183.5 L132.2,183.8 L133.2,184.1 L134.2,184.4 L135.2,184.7 L136.2,185.0 L137.2,185.3 L138.2,185.6 L139.2,185.9 L140.2,186.2 L141.2,186.5 L142.2,186.8 L143.2,187.1 L144.2,187.4 L145.2,187.7 L146.2,188.0 L147.2,188.3 L148.2,188.6 L149.2,188.9 L150.2,189.2 L151.2,189.4 L152.2,189.7 L153.2,190.0 L154.2,190.3 L155.2,190.6 L156.2,190.9 L157.2,191.1 L158.2,191.4 L159.2,191.7 L160.2,192.0 L161.2,192.2 L162.2,192.5 L163.2,192.8 L164.2,193.1 L165.2,193.4 L166.2,193.7 L167.2,194.0 L168.2,194.3 L169.2,194.6 L170.2,194.9 L171.2,195.3 L172.2,195.6 L173.2,196.0 L174.2,196.3 L175.2,196.7 L176.2,197.1 L177.2,197.5 L178.2,197.9 L179.2,198.3 L180.2,198.7 L181.2,199.2 L182.2,199.7 L183.2,200.1 L184.2,200.6 L185.2,201.1 L186.2,201.7 L187.2,202.2 L188.2,202.8 L189.2,203.3 L190.2,203.9 L191.2,204.6 L192.2,205.3 L193.2,206.0 L194.2,206.8 L195.2,207.6 L196.2,208.4 L197.2,209.1 L198.2,209.9 L199.2,210.5 L200.2,211.1 L201.2,211.7 L202.2,212.3 L203.2,212.8 L204.2,213.4 L205.2,213.9 L206.2,214.4 L207.2,214.8 L208.2,215.1 L209.2,215.4 L210.2,215.5 L211.2,215.6 L212.2,215.7 L213.2,215.8 L214.2,215.9 L215.2,215.9 L216.2,216.0 L217.2,216.0 L218.2,216.1 L219.2,216.1 L220.2,216.2 L221.2,216.2 L222.2,216.3 L223.2,216.3 L224.2,216.3 L225.2,216.4 L226.2,216.4 L227.2,216.4 L228.2,216.4 L229.2,216.5 L230.2,216.5 L231.2,216.5 L232.2,216.6 L233.2,216.6 L234.2,216.6 L235.2,216.6 L236.2,216.7 L237.2,216.7 L238.2,216.7 L239.2,216.7 L240.2,216.8 L241.2,216.8 L242.2,216.8 L243.2,216.8 L244.2,216.9 L245.2,216.9 L246.2,216.9 L247.2,216.9 L248.2,216.9 L249.2,216.9 L250.2,217.0 L251.2,217.0 L252.2,217.0 L253.2,217.0 L254.2,217.0 L255.2,217.0" fill="none" stroke="#707070" stroke-width="1.4" stroke-linejoin="round" stroke-linecap="round" />
<path d="M30.2,168.0 L31.2,168.0 L32.2,167.9 L33.2,167.9 L34.2,167.8 L35.2,167.8 L36.2,167.7 L37.2,167.6 L38.2,167.5 L39.2,167.4 L40.2,167.3 L41.2,167.2 L42.2,167.0 L43.2,166.9 L44.2,166.7 L45.2,166.5 L46.2,166.3 L47.2,166.1 L48.2,165.9 L49.2,165.7 L50.2,165.4 L51.2,165.2 L52.2,164.9 L53.2,164.7 L54.2,164.5 L55.2,164.2 L56.2,164.0 L57.2,163.8 L58.2,163.6 L59.2,163.5 L60.2,163.3 L61.2,163.2 L62.2,163.2 L63.2,163.1 L64.2,163.1 L65.2,163.1 L66.2,163.2 L67.2,163.3 L68.2,163.4 L69.2,163.5 L70.2,163.6 L71.2,163.8 L72.2,164.0 L73.2,164.2 L74.2,164.4 L75.2,164.6 L76.2,164.8 L77.2,165.1 L78.2,165.3 L79.2,165.6 L80.2,165.9 L81.2,166.1 L82.2,166.4 L83.2,166.7 L84.2,167.0 L85.2,167.3 L86.2,167.7 L87.2,168.0 L88.2,168.3 L89.2,168.7 L90.2,169.0 L91.2,169.4 L92.2,169.7 L93.2,170.1 L94.2,170.5 L95.2,170.8 L96.2,171.2 L97.2,171.5 L98.2,171.9 L99.2,172.2 L100.2,172.5 L101.2,172.9 L102.2,173.2 L103.2,173.5 L104.2,173.8 L105.2,174.2 L106.2,174.5 L107.2,174.7 L108.2,175.0 L109.2,175.3 L110.2,175.5 L111.2,175.8 L112.2,176.0 L113.2,176.3 L114.2,176.5 L115.2,176.8 L116.2,177.0 L117.2,177.2 L118.2,177.5 L119.2,177.7 L120.2,177.8 L121.2,178.0 L122.2,178.1 L123.2,178.1 L124.2,178.2 L125.2,178.2 L126.2,178.1 L127.2,178.0 L128.2,177.9 L129.2,177.8 L130.2,177.6 L131.2,177.4 L132.2,177.2 L133.2,177.0 L134.2,176.7 L135.2,176.5 L136.2,176.2 L137.2,175.9 L138.2,175.7 L139.2,175.5 L140.2,175.3 L141.2,175.1 L142.2,174.9 L143.2,174.8 L144.2,174.7 L145.2,174.7 L146.2,174.8 L147.2,174.9 L148.2,175.0 L149.2,175.3 L150.2,175.6 L151.2,175.9 L152.2,176.3 L153.2,176.7 L154.2,177.1 L155.2,177.6 L156.2,178.1 L157.2,178.6 L158.2,179.2 L159.2,179.8 L160.2,180.4 L161.2,181.0 L162.2,181.7 L163.2,182.4 L164.2,183.1 L165.2,183.9 L166.2,184.6 L167.2,185.4 L168.2,186.2 L169.2,186.9 L170.2,187.7 L171.2,188.5 L172.2,189.4 L173.2,190.2 L174.2,191.0 L175.2,191.8 L176.2,192.7 L177.2,193.5 L178.2,194.4 L179.2,195.4 L180.2,196.4 L181.2,197.4 L182.2,198.4 L183.2,199.4 L184.2,200.4 L185.2,201.5 L186.2,202.5 L187.2,203.5 L188.2,204.4 L189.2,205.4 L190.2,206.3 L191.2,207.1 L192.2,208.0 L193.2,208.9 L194.2,209.9 L195.2,210.8 L196.2,211.7 L197.2,212.5 L198.2,213.2 L199.2,213.8 L200.2,214.3 L201.2,214.7 L202.2,215.1 L203.2,215.5 L204.2,215.8 L205.2,216.1 L206.2,216.4 L207.2,216.6 L208.2,216.8 L209.2,216.9 L210.2,217.0 L211.2,217.0 L212.2,217.0 L213.2,217.0 L214.2,217.0 L215.2,217.1 L216.2,217.1 L217.2,217.1 L218.2,217.1 L219.2,217.1 L220.2,217.1 L221.2,217.1 L222.2,217.2 L223.2,217.2 L224.2,217.2 L225.2,217.2 L226.2,217.2 L227.2,217.2 L228.2,217.2 L229.2,217.2 L230.2,217.2 L231.2,217.2 L232.2,217.2 L233.2,217.2 L234.2,217.2 L235.2,217.3 L236.2,217.3 L237.2,217.3 L238.2,217.3 L239.2,217.3 L240.2,217.3 L241.2,217.3 L242.2,217.3 L243.2,217.3 L244.2,217.3 L245.2,217.3 L246.2,217.3 L247.2,217.3 L248.2,217.3 L249.2,217.3 L250.2,217.3 L251.2,217.3 L252.2,217.3 L253.2,217.3 L254.2,217.3 L255.2,217.3" fill="none" stroke="#8000ff" stroke-width="1.9" stroke-linejoin="round" stroke-linecap="round" />
<path d="M30.2,168.2 L31.2,168.3 L32.2,168.3 L33.2,168.4 L34.2,168.4 L35.2,168.4 L36.2,168.5 L37.2,168.5 L38.2,168.6 L39.2,168.6 L40.2,168.6 L41.2,168.7 L42.2,168.7 L43.2,168.8 L44.2,168.8 L45.2,168.9 L46.2,168.9 L47.2,169.0 L48.2,169.0 L49.2,169.1 L50.2,169.1 L51.2,169.2 L52.2,169.2 L53.2,169.2 L54.2,169.3 L55.2,169.4 L56.2,169.4 L57.2,169.5 L58.2,169.5 L59.2,169.6 L60.2,169.6 L61.2,169.7 L62.2,169.7 L63.2,169.8 L64.2,169.8 L65.2,169.9 L66.2,169.9 L67.2,170.0 L68.2,170.0 L69.2,170.1 L70.2,170.1 L71.2,170.2 L72.2,170.3 L73.2,170.3 L74.2,170.4 L75.2,170.4 L76.2,170.5 L77.2,170.6 L78.2,170.7 L79.2,170.7 L80.2,170.8 L81.2,170.9 L82.2,171.0 L83.2,171.1 L84.2,171.2 L85.2,171.3 L86.2,171.4 L87.2,171.5 L88.2,171.6 L89.2,171.8 L90.2,171.9 L91.2,172.0 L92.2,172.1 L93.2,172.2 L94.2,172.3 L95.2,172.3 L96.2,172.2 L97.2,172.1 L98.2,171.8 L99.2,171.3 L100.2,170.7 L101.2,169.8 L102.2,168.6 L103.2,167.2 L104.2,165.5 L105.2,163.6 L106.2,161.4 L107.2,159.2 L108.2,157.0 L109.2,154.9 L110.2,153.1 L111.2,151.8 L112.2,150.9 L113.2,150.7 L114.2,151.2 L115.2,152.3 L116.2,154.0 L117.2,156.2 L118.2,158.8 L119.2,161.6 L120.2,164.5 L121.2,167.4 L122.2,170.1 L123.2,172.6 L124.2,174.8 L125.2,176.7 L126.2,178.3 L127.2,179.6 L128.2,180.7 L129.2,181.6 L130.2,182.3 L131.2,182.9 L132.2,183.4 L133.2,183.9 L134.2,184.3 L135.2,184.6 L136.2,185.0 L137.2,185.3 L138.2,185.6 L139.2,185.9 L140.2,186.2 L141.2,186.5 L142.2,186.8 L143.2,187.1 L144.2,187.4 L145.2,187.7 L146.2,188.0 L147.2,188.3 L148.2,188.6 L149.2,188.9 L150.2,189.2 L151.2,189.4 L152.2,189.7 L153.2,190.0 L154.2,190.3 L155.2,190.6 L156.2,190.9 L157.2,191.1 L158.2,191.4 L159.2,191.7 L160.2,192.0 L161.2,192.2 L162.2,192.5 L163.2,192.8 L164.2,193.1 L165.2,193.4 L166.2,193.7 L167.2,193.9 L168.2,194.2 L169.2,194.4 L170.2,194.6 L171.2,194.8 L172.2,194.8 L173.2,194.7 L174.2,194.5 L175.2,193.9 L176.2,193.1 L177.2,192.0 L178.2,190.3 L179.2,188.2 L180.2,185.5 L181.2,182.3 L182.2,178.6 L183.2,174.5 L184.2,170.1 L185.2,165.5 L186.2,161.2 L187.2,157.2 L188.2,153.8 L189.2,151.3 L190.2,150.0 L191.2,149.9 L192.2,151.1 L193.2,153.6 L194.2,157.2 L195.2,161.7 L196.2,166.9 L197.2,172.5 L198.2,178.3 L199.2,183.9 L200.2,189.2 L201.2,194.0 L202.2,198.4 L203.2,202.2 L204.2,205.4 L205.2,208.0 L206.2,210.2 L207.2,211.9 L208.2,213.1 L209.2,214.0 L210.2,214.6 L211.2,215.0 L212.2,215.3 L213.2,215.6 L214.2,215.7 L215.2,215.8 L216.2,215.9 L217.2,216.0 L218.2,216.1 L219.2,216.1 L220.2,216.2 L221.2,216.2 L222.2,216.3 L223.2,216.3 L224.2,216.3 L225.2,216.4 L226.2,216.4 L227.2,216.4 L228.2,216.4 L229.2,216.5 L230.2,216.5 L231.2,216.5 L232.2,216.6 L233.2,216.6 L234.2,216.6 L235.2,216.6 L236.2,216.7 L237.2,216.7 L238.2,216.7 L239.2,216.7 L240.2,216.8 L241.2,216.8 L242.2,216.8 L243.2,216.8 L244.2,216.9 L245.2,216.9 L246.2,216.9 L247.2,216.9 L248.2,216.9 L249.2,216.9 L250.2,217.0 L251.2,217.0 L252.2,217.0 L253.2,217.0 L254.2,217.0 L255.2,217.0" fill="none" stroke="#4ea64e" stroke-width="1.7" stroke-linejoin="round" stroke-linecap="round" />
<path d="M30.2,168.2 L31.2,168.3 L32.2,168.3 L33.2,168.4 L34.2,168.4 L35.2,168.4 L36.2,168.5 L37.2,168.5 L38.2,168.6 L39.2,168.6 L40.2,168.6 L41.2,168.7 L42.2,168.7 L43.2,168.8 L44.2,168.8 L45.2,168.9 L46.2,168.9 L47.2,169.0 L48.2,169.0 L49.2,169.1 L50.2,169.1 L51.2,169.2 L52.2,169.2 L53.2,169.2 L54.2,169.3 L55.2,169.4 L56.2,169.4 L57.2,169.5 L58.2,169.5 L59.2,169.6 L60.2,169.6 L61.2,169.7 L62.2,169.7 L63.2,169.8 L64.2,169.8 L65.2,169.9 L66.2,169.9 L67.2,170.0 L68.2,170.0 L69.2,170.1 L70.2,170.1 L71.2,170.2 L72.2,170.2 L73.2,170.3 L74.2,170.4 L75.2,170.4 L76.2,170.5 L77.2,170.5 L78.2,170.5 L79.2,170.6 L80.2,170.5 L81.2,170.5 L82.2,170.4 L83.2,170.2 L84.2,169.9 L85.2,169.6 L86.2,169.1 L87.2,168.5 L88.2,167.8 L89.2,167.0 L90.2,166.0 L91.2,165.1 L92.2,164.1 L93.2,163.1 L94.2,162.3 L95.2,161.7 L96.2,161.3 L97.2,161.1 L98.2,161.3 L99.2,161.8 L100.2,162.5 L101.2,163.5 L102.2,164.7 L103.2,166.0 L104.2,167.4 L105.2,168.8 L106.2,170.1 L107.2,171.4 L108.2,172.6 L109.2,173.6 L110.2,174.5 L111.2,175.3 L112.2,176.0 L113.2,176.6 L114.2,177.1 L115.2,177.6 L116.2,178.1 L117.2,178.5 L118.2,178.9 L119.2,179.3 L120.2,179.7 L121.2,180.1 L122.2,180.5 L123.2,180.9 L124.2,181.2 L125.2,181.6 L126.2,181.9 L127.2,182.2 L128.2,182.5 L129.2,182.9 L130.2,183.2 L131.2,183.5 L132.2,183.8 L133.2,184.1 L134.2,184.4 L135.2,184.7 L136.2,185.0 L137.2,185.3 L138.2,185.6 L139.2,185.9 L140.2,186.2 L141.2,186.5 L142.2,186.8 L143.2,187.1 L144.2,187.4 L145.2,187.7 L146.2,188.0 L147.2,188.3 L148.2,188.6 L149.2,188.9 L150.2,189.1 L151.2,189.4 L152.2,189.7 L153.2,190.0 L154.2,190.2 L155.2,190.5 L156.2,190.7 L157.2,190.8 L158.2,190.9 L159.2,190.9 L160.2,190.9 L161.2,190.6 L162.2,190.2 L163.2,189.6 L164.2,188.7 L165.2,187.6 L166.2,186.2 L167.2,184.6 L168.2,182.7 L169.2,180.7 L170.2,178.7 L171.2,176.7 L172.2,174.9 L173.2,173.4 L174.2,172.4 L175.2,171.9 L176.2,172.1 L177.2,172.8 L178.2,174.2 L179.2,176.1 L180.2,178.4 L181.2,181.0 L182.2,183.9 L183.2,186.7 L184.2,189.5 L185.2,192.1 L186.2,194.6 L187.2,196.7 L188.2,198.7 L189.2,200.3 L190.2,201.8 L191.2,203.1 L192.2,204.2 L193.2,205.3 L194.2,206.4 L195.2,207.3 L196.2,208.2 L197.2,209.0 L198.2,209.8 L199.2,210.5 L200.2,211.1 L201.2,211.7 L202.2,212.3 L203.2,212.8 L204.2,213.4 L205.2,213.9 L206.2,214.4 L207.2,214.8 L208.2,215.1 L209.2,215.4 L210.2,215.5 L211.2,215.6 L212.2,215.7 L213.2,215.8 L214.2,215.9 L215.2,215.9 L216.2,216.0 L217.2,216.0 L218.2,216.1 L219.2,216.1 L220.2,216.2 L221.2,216.2 L222.2,216.3 L223.2,216.3 L224.2,216.3 L225.2,216.4 L226.2,216.4 L227.2,216.4 L228.2,216.4 L229.2,216.5 L230.2,216.5 L231.2,216.5 L232.2,216.6 L233.2,216.6 L234.2,216.6 L235.2,216.6 L236.2,216.7 L237.2,216.7 L238.2,216.7 L239.2,216.7 L240.2,216.8 L241.2,216.8 L242.2,216.8 L243.2,216.8 L244.2,216.9 L245.2,216.9 L246.2,216.9 L247.2,216.9 L248.2,216.9 L249.2,216.9 L250.2,217.0 L251.2,217.0 L252.2,217.0 L253.2,217.0 L254.2,217.0 L255.2,217.0" fill="none" stroke="#f28c38" stroke-width="1.7" stroke-linejoin="round" stroke-linecap="round" />
<path d="M181,77 L181,150.8 L176.4,157.5 L176.4,218" fill="none" stroke="#1a1a1a" stroke-width="1.3" stroke-dasharray="1.5,1.6"/>
<path d="M195.5,50 L195.5,121.4 L191.7,128.7 L191.7,194" fill="none" stroke="#1a1a1a" stroke-width="1.3" stroke-dasharray="1.5,1.6"/>
<path d="M305.0,94.7 L306.0,94.2 L307.0,94.7 L308.0,94.8 L309.0,95.3 L310.0,94.2 L311.0,94.7 L312.0,93.8 L313.0,95.1 L314.0,94.1 L315.0,93.7 L316.0,94.6 L317.0,95.3 L318.0,93.8 L319.0,94.1 L320.0,94.2 L321.0,94.0 L322.0,94.8 L323.0,94.2 L324.0,94.2 L325.0,94.9 L326.0,94.2 L327.0,94.8 L328.0,94.0 L329.0,93.9 L330.0,93.5 L331.0,95.6 L332.0,94.4 L333.0,94.7 L334.0,94.5 L335.0,94.6 L336.0,94.5 L337.0,95.5 L338.0,93.9 L339.0,93.6 L340.0,93.9 L341.0,93.7 L342.0,94.9 L343.0,94.9 L344.0,93.9 L345.0,93.7 L346.0,94.2 L347.0,95.2 L348.0,92.8 L349.0,94.7 L350.0,93.8 L351.0,94.9 L352.0,93.8 L353.0,94.2 L354.0,93.5 L355.0,93.8 L356.0,95.1 L357.0,94.7 L358.0,94.1 L359.0,93.8 L360.0,93.2 L361.0,94.0 L362.0,94.2 L363.0,94.2 L364.0,94.1 L365.0,93.6 L366.0,94.1 L367.0,94.1 L368.0,94.8 L369.0,95.1 L370.0,94.0 L371.0,93.6 L372.0,94.0 L373.0,93.7 L374.0,93.6 L375.0,93.9 L376.0,93.4 L377.0,94.3 L378.0,93.8 L379.0,94.0 L380.0,93.7 L381.0,93.4 L382.0,93.2 L383.0,93.6 L384.0,93.4 L385.0,93.8 L386.0,93.6 L387.0,92.8 L388.0,93.5 L389.0,92.7 L390.0,93.0 L391.0,93.2 L392.0,92.1 L393.0,93.2 L394.0,93.2 L395.0,92.9 L396.0,92.6 L397.0,92.6 L398.0,92.1 L399.0,92.3 L400.0,92.0 L401.0,92.2 L402.0,91.3 L403.0,91.8 L404.0,91.5 L405.0,91.1 L406.0,90.5 L407.0,90.6 L408.0,88.9 L409.0,89.3 L410.0,88.3 L411.0,87.3 L412.0,85.9 L413.0,83.5 L414.0,81.4 L415.0,79.2 L416.0,75.7 L417.0,71.8 L418.0,66.7 L419.0,63.5 L420.0,59.9 L421.0,57.0 L422.0,55.4 L423.0,55.2 L424.0,59.1 L425.0,62.0 L426.0,64.6 L427.0,69.9 L428.0,72.2 L429.0,75.0 L430.0,77.3 L431.0,79.7 L432.0,79.3 L433.0,79.4 L434.0,79.1 L435.0,76.8 L436.0,72.7 L437.0,68.2 L438.0,62.0 L439.0,55.5 L440.0,48.3 L441.0,39.9 L442.0,31.4 L443.0,24.6 L444.0,18.5 L445.0,17.1 L446.0,19.6 L447.0,24.9 L448.0,32.7 L449.0,41.0 L450.0,49.4 L451.0,57.9 L452.0,64.3 L453.0,70.1 L454.0,76.3 L455.0,79.8 L456.0,83.0 L457.0,84.2 L458.0,86.6 L459.0,87.7 L460.0,88.5 L461.0,88.4 L462.0,90.1 L463.0,91.2 L464.0,91.3 L465.0,91.1 L466.0,91.7 L467.0,92.4 L468.0,90.6 L469.0,92.3 L470.0,92.8 L471.0,93.1 L472.0,93.8 L473.0,93.6 L474.0,93.3 L475.0,93.4 L476.0,93.7 L477.0,93.1 L478.0,93.4 L479.0,94.0 L480.0,94.7 L481.0,93.6 L482.0,93.7 L483.0,93.9 L484.0,94.6 L485.0,93.9 L486.0,94.8 L487.0,93.5 L488.0,94.0 L489.0,94.0 L490.0,94.6 L491.0,94.8 L492.0,93.4 L493.0,93.8 L494.0,94.5 L495.0,94.0 L496.0,93.5 L497.0,95.0 L498.0,94.7 L499.0,94.7 L500.0,94.2 L501.0,95.1 L502.0,94.4 L503.0,95.2 L504.0,94.1 L505.0,94.1 L506.0,94.7 L507.0,94.3 L508.0,95.0 L509.0,94.8 L510.0,94.2 L511.0,94.8 L512.0,94.5 L513.0,95.3 L514.0,94.4 L515.0,94.6 L516.0,95.5 L517.0,96.1 L518.0,96.0 L519.0,94.9 L520.0,95.0 L521.0,95.8 L522.0,94.9 L523.0,94.4 L524.0,95.0 L525.0,95.2 L526.0,94.5 L527.0,94.1 L528.0,94.2 L529.0,95.4 L530.0,94.6" fill="none" stroke="#0000ff" stroke-width="1.9" stroke-linejoin="round" stroke-linecap="round" />
<path d="M305.0,94.8 L306.0,94.8 L307.0,94.8 L308.0,94.8 L309.0,94.8 L310.0,94.8 L311.0,94.8 L312.0,94.8 L313.0,94.8 L314.0,94.8 L315.0,94.8 L316.0,94.7 L317.0,94.7 L318.0,94.7 L319.0,94.7 L320.0,94.7 L321.0,94.7 L322.0,94.7 L323.0,94.7 L324.0,94.7 L325.0,94.7 L326.0,94.7 L327.0,94.7 L328.0,94.7 L329.0,94.7 L330.0,94.7 L331.0,94.7 L332.0,94.6 L333.0,94.6 L334.0,94.6 L335.0,94.6 L336.0,94.6 L337.0,94.6 L338.0,94.6 L339.0,94.6 L340.0,94.6 L341.0,94.6 L342.0,94.6 L343.0,94.6 L344.0,94.6 L345.0,94.6 L346.0,94.6 L347.0,94.6 L348.0,94.5 L349.0,94.5 L350.0,94.5 L351.0,94.5 L352.0,94.5 L353.0,94.5 L354.0,94.5 L355.0,94.5 L356.0,94.5 L357.0,94.5 L358.0,94.5 L359.0,94.5 L360.0,94.5 L361.0,94.5 L362.0,94.5 L363.0,94.5 L364.0,94.4 L365.0,94.4 L366.0,94.4 L367.0,94.4 L368.0,94.4 L369.0,94.4 L370.0,94.4 L371.0,94.4 L372.0,94.4 L373.0,94.4 L374.0,94.4 L375.0,94.4 L376.0,94.4 L377.0,94.3 L378.0,94.3 L379.0,94.3 L380.0,94.3 L381.0,94.3 L382.0,94.3 L383.0,94.3 L384.0,94.3 L385.0,94.3 L386.0,94.2 L387.0,94.2 L388.0,94.2 L389.0,94.2 L390.0,94.2 L391.0,94.2 L392.0,94.2 L393.0,94.1 L394.0,94.1 L395.0,94.1 L396.0,94.1 L397.0,94.1 L398.0,94.0 L399.0,94.0 L400.0,94.0 L401.0,94.0 L402.0,93.9 L403.0,93.9 L404.0,93.9 L405.0,93.8 L406.0,93.8 L407.0,93.8 L408.0,93.7 L409.0,93.7 L410.0,93.6 L411.0,93.5 L412.0,93.5 L413.0,93.4 L414.0,93.3 L415.0,93.3 L416.0,93.2 L417.0,93.1 L418.0,93.0 L419.0,92.8 L420.0,92.7 L421.0,92.6 L422.0,92.4 L423.0,92.2 L424.0,92.0 L425.0,91.7 L426.0,91.4 L427.0,91.1 L428.0,90.6 L429.0,90.1 L430.0,89.4 L431.0,88.5 L432.0,87.3 L433.0,85.7 L434.0,83.5 L435.0,80.5 L436.0,76.7 L437.0,71.8 L438.0,65.8 L439.0,58.6 L440.0,50.5 L441.0,41.9 L442.0,33.3 L443.0,25.8 L444.0,20.6 L445.0,18.7 L446.0,20.6 L447.0,25.9 L448.0,33.4 L449.0,41.9 L450.0,50.6 L451.0,58.7 L452.0,65.8 L453.0,71.8 L454.0,76.8 L455.0,80.6 L456.0,83.6 L457.0,85.8 L458.0,87.4 L459.0,88.6 L460.0,89.5 L461.0,90.2 L462.0,90.8 L463.0,91.2 L464.0,91.6 L465.0,91.9 L466.0,92.1 L467.0,92.4 L468.0,92.6 L469.0,92.7 L470.0,92.9 L471.0,93.0 L472.0,93.2 L473.0,93.3 L474.0,93.4 L475.0,93.5 L476.0,93.6 L477.0,93.7 L478.0,93.7 L479.0,93.8 L480.0,93.9 L481.0,93.9 L482.0,94.0 L483.0,94.0 L484.0,94.1 L485.0,94.1 L486.0,94.2 L487.0,94.2 L488.0,94.3 L489.0,94.3 L490.0,94.3 L491.0,94.4 L492.0,94.4 L493.0,94.4 L494.0,94.5 L495.0,94.5 L496.0,94.5 L497.0,94.5 L498.0,94.6 L499.0,94.6 L500.0,94.6 L501.0,94.6 L502.0,94.7 L503.0,94.7 L504.0,94.7 L505.0,94.7 L506.0,94.7 L507.0,94.8 L508.0,94.8 L509.0,94.8 L510.0,94.8 L511.0,94.8 L512.0,94.8 L513.0,94.9 L514.0,94.9 L515.0,94.9 L516.0,94.9 L517.0,94.9 L518.0,94.9 L519.0,95.0 L520.0,95.0 L521.0,95.0 L522.0,95.0 L523.0,95.0 L524.0,95.0 L525.0,95.1 L526.0,95.1 L527.0,95.1 L528.0,95.1 L529.0,95.1 L530.0,95.1" fill="none" stroke="#4ea64e" stroke-width="1.7" stroke-linejoin="round" stroke-linecap="round" />
<path d="M305.0,94.8 L306.0,94.8 L307.0,94.8 L308.0,94.8 L309.0,94.8 L310.0,94.8 L311.0,94.8 L312.0,94.8 L313.0,94.8 L314.0,94.8 L315.0,94.8 L316.0,94.7 L317.0,94.7 L318.0,94.7 L319.0,94.7 L320.0,94.7 L321.0,94.7 L322.0,94.7 L323.0,94.7 L324.0,94.7 L325.0,94.7 L326.0,94.7 L327.0,94.7 L328.0,94.7 L329.0,94.7 L330.0,94.7 L331.0,94.6 L332.0,94.6 L333.0,94.6 L334.0,94.6 L335.0,94.6 L336.0,94.6 L337.0,94.6 L338.0,94.6 L339.0,94.6 L340.0,94.6 L341.0,94.6 L342.0,94.6 L343.0,94.6 L344.0,94.6 L345.0,94.5 L346.0,94.5 L347.0,94.5 L348.0,94.5 L349.0,94.5 L350.0,94.5 L351.0,94.5 L352.0,94.5 L353.0,94.5 L354.0,94.5 L355.0,94.5 L356.0,94.5 L357.0,94.5 L358.0,94.4 L359.0,94.4 L360.0,94.4 L361.0,94.4 L362.0,94.4 L363.0,94.4 L364.0,94.4 L365.0,94.4 L366.0,94.4 L367.0,94.4 L368.0,94.3 L369.0,94.3 L370.0,94.3 L371.0,94.3 L372.0,94.3 L373.0,94.3 L374.0,94.3 L375.0,94.2 L376.0,94.2 L377.0,94.2 L378.0,94.2 L379.0,94.2 L380.0,94.1 L381.0,94.1 L382.0,94.1 L383.0,94.1 L384.0,94.0 L385.0,94.0 L386.0,94.0 L387.0,93.9 L388.0,93.9 L389.0,93.8 L390.0,93.8 L391.0,93.7 L392.0,93.7 L393.0,93.6 L394.0,93.6 L395.0,93.5 L396.0,93.4 L397.0,93.3 L398.0,93.2 L399.0,93.1 L400.0,92.9 L401.0,92.8 L402.0,92.6 L403.0,92.4 L404.0,92.2 L405.0,91.9 L406.0,91.6 L407.0,91.2 L408.0,90.7 L409.0,90.0 L410.0,89.2 L411.0,88.2 L412.0,86.8 L413.0,85.0 L414.0,82.9 L415.0,80.2 L416.0,76.9 L417.0,73.2 L418.0,69.2 L419.0,65.0 L420.0,61.2 L421.0,58.5 L422.0,57.5 L423.0,58.5 L424.0,61.2 L425.0,65.0 L426.0,69.2 L427.0,73.3 L428.0,77.0 L429.0,80.2 L430.0,82.9 L431.0,85.1 L432.0,86.8 L433.0,88.2 L434.0,89.3 L435.0,90.1 L436.0,90.7 L437.0,91.2 L438.0,91.6 L439.0,92.0 L440.0,92.3 L441.0,92.5 L442.0,92.7 L443.0,92.9 L444.0,93.0 L445.0,93.2 L446.0,93.3 L447.0,93.4 L448.0,93.5 L449.0,93.6 L450.0,93.7 L451.0,93.7 L452.0,93.8 L453.0,93.9 L454.0,93.9 L455.0,94.0 L456.0,94.0 L457.0,94.1 L458.0,94.1 L459.0,94.1 L460.0,94.2 L461.0,94.2 L462.0,94.2 L463.0,94.3 L464.0,94.3 L465.0,94.3 L466.0,94.4 L467.0,94.4 L468.0,94.4 L469.0,94.4 L470.0,94.4 L471.0,94.5 L472.0,94.5 L473.0,94.5 L474.0,94.5 L475.0,94.5 L476.0,94.6 L477.0,94.6 L478.0,94.6 L479.0,94.6 L480.0,94.6 L481.0,94.6 L482.0,94.7 L483.0,94.7 L484.0,94.7 L485.0,94.7 L486.0,94.7 L487.0,94.7 L488.0,94.7 L489.0,94.7 L490.0,94.8 L491.0,94.8 L492.0,94.8 L493.0,94.8 L494.0,94.8 L495.0,94.8 L496.0,94.8 L497.0,94.8 L498.0,94.9 L499.0,94.9 L500.0,94.9 L501.0,94.9 L502.0,94.9 L503.0,94.9 L504.0,94.9 L505.0,94.9 L506.0,95.0 L507.0,95.0 L508.0,95.0 L509.0,95.0 L510.0,95.0 L511.0,95.0 L512.0,95.0 L513.0,95.0 L514.0,95.0 L515.0,95.1 L516.0,95.1 L517.0,95.1 L518.0,95.1 L519.0,95.1 L520.0,95.1 L521.0,95.1 L522.0,95.1 L523.0,95.1 L524.0,95.2 L525.0,95.2 L526.0,95.2 L527.0,95.2 L528.0,95.2 L529.0,95.2 L530.0,95.2" fill="none" stroke="#f28c38" stroke-width="1.7" stroke-linejoin="round" stroke-linecap="round" />
<path d="M305.0,159.0 L306.0,159.2 L307.0,159.4 L308.0,158.9 L309.0,159.3 L310.0,158.6 L311.0,158.8 L312.0,158.5 L313.0,159.7 L314.0,159.0 L315.0,158.6 L316.0,158.8 L317.0,158.9 L318.0,159.4 L319.0,158.1 L320.0,158.4 L321.0,158.8 L322.0,160.4 L323.0,159.5 L324.0,158.9 L325.0,159.4 L326.0,160.1 L327.0,158.8 L328.0,158.8 L329.0,159.6 L330.0,159.2 L331.0,159.3 L332.0,158.7 L333.0,160.0 L334.0,159.9 L335.0,159.2 L336.0,159.3 L337.0,157.8 L338.0,159.2 L339.0,158.8 L340.0,159.1 L341.0,159.3 L342.0,158.7 L343.0,157.9 L344.0,159.1 L345.0,158.4 L346.0,158.7 L347.0,158.5 L348.0,158.6 L349.0,157.5 L350.0,159.5 L351.0,158.9 L352.0,159.4 L353.0,159.9 L354.0,158.8 L355.0,157.7 L356.0,158.2 L357.0,158.1 L358.0,158.4 L359.0,158.7 L360.0,157.6 L361.0,158.8 L362.0,157.8 L363.0,158.8 L364.0,158.6 L365.0,158.4 L366.0,158.5 L367.0,158.3 L368.0,158.2 L369.0,157.6 L370.0,158.5 L371.0,159.5 L372.0,159.5 L373.0,159.2 L374.0,158.8 L375.0,158.0 L376.0,159.1 L377.0,158.3 L378.0,158.2 L379.0,158.1 L380.0,158.3 L381.0,157.9 L382.0,158.1 L383.0,157.5 L384.0,157.8 L385.0,159.3 L386.0,157.9 L387.0,157.8 L388.0,158.1 L389.0,158.2 L390.0,157.1 L391.0,157.5 L392.0,158.1 L393.0,157.6 L394.0,157.4 L395.0,158.1 L396.0,156.8 L397.0,157.1 L398.0,156.6 L399.0,157.6 L400.0,155.5 L401.0,156.0 L402.0,155.9 L403.0,156.3 L404.0,155.9 L405.0,156.0 L406.0,153.9 L407.0,154.7 L408.0,153.5 L409.0,152.5 L410.0,152.2 L411.0,150.1 L412.0,148.0 L413.0,147.2 L414.0,144.4 L415.0,142.4 L416.0,140.2 L417.0,137.2 L418.0,134.7 L419.0,130.6 L420.0,127.2 L421.0,125.7 L422.0,124.7 L423.0,124.6 L424.0,126.4 L425.0,127.3 L426.0,128.3 L427.0,131.7 L428.0,133.3 L429.0,135.5 L430.0,137.1 L431.0,138.8 L432.0,139.2 L433.0,139.9 L434.0,138.6 L435.0,136.7 L436.0,134.0 L437.0,129.3 L438.0,125.5 L439.0,120.3 L440.0,115.1 L441.0,108.8 L442.0,105.7 L443.0,101.4 L444.0,99.2 L445.0,99.7 L446.0,103.5 L447.0,108.2 L448.0,113.4 L449.0,119.7 L450.0,125.0 L451.0,130.9 L452.0,134.9 L453.0,139.3 L454.0,143.3 L455.0,146.9 L456.0,147.2 L457.0,149.2 L458.0,150.4 L459.0,152.4 L460.0,152.2 L461.0,153.3 L462.0,154.1 L463.0,154.0 L464.0,154.4 L465.0,155.0 L466.0,154.3 L467.0,154.9 L468.0,155.7 L469.0,156.2 L470.0,156.2 L471.0,155.5 L472.0,156.3 L473.0,157.2 L474.0,157.1 L475.0,156.9 L476.0,156.5 L477.0,157.5 L478.0,156.9 L479.0,156.6 L480.0,156.9 L481.0,158.2 L482.0,157.6 L483.0,158.1 L484.0,157.3 L485.0,158.1 L486.0,157.3 L487.0,157.6 L488.0,159.1 L489.0,158.2 L490.0,157.5 L491.0,157.7 L492.0,158.0 L493.0,158.5 L494.0,157.6 L495.0,156.9 L496.0,157.8 L497.0,157.9 L498.0,158.0 L499.0,158.7 L500.0,158.1 L501.0,158.4 L502.0,157.4 L503.0,158.5 L504.0,159.2 L505.0,158.5 L506.0,158.2 L507.0,158.1 L508.0,159.0 L509.0,157.6 L510.0,158.0 L511.0,158.3 L512.0,158.5 L513.0,157.9 L514.0,158.3 L515.0,158.0 L516.0,158.2 L517.0,158.0 L518.0,157.5 L519.0,158.1 L520.0,158.6 L521.0,157.6 L522.0,158.0 L523.0,158.5 L524.0,157.5 L525.0,158.2 L526.0,157.5 L527.0,158.8 L528.0,159.4 L529.0,159.2 L530.0,158.0" fill="none" stroke="#ff0000" stroke-width="1.9" stroke-linejoin="round" stroke-linecap="round" />
<path d="M305.0,159.1 L306.0,159.1 L307.0,159.1 L308.0,159.1 L309.0,159.1 L310.0,159.1 L311.0,159.1 L312.0,159.1 L313.0,159.1 L314.0,159.1 L315.0,159.1 L316.0,159.1 L317.0,159.1 L318.0,159.1 L319.0,159.1 L320.0,159.1 L321.0,159.1 L322.0,159.1 L323.0,159.1 L324.0,159.1 L325.0,159.1 L326.0,159.1 L327.0,159.1 L328.0,159.1 L329.0,159.1 L330.0,159.1 L331.0,159.0 L332.0,159.0 L333.0,159.0 L334.0,159.0 L335.0,159.0 L336.0,159.0 L337.0,159.0 L338.0,159.0 L339.0,159.0 L340.0,159.0 L341.0,159.0 L342.0,159.0 L343.0,159.0 L344.0,159.0 L345.0,159.0 L346.0,159.0 L347.0,159.0 L348.0,159.0 L349.0,159.0 L350.0,159.0 L351.0,159.0 L352.0,159.0 L353.0,158.9 L354.0,158.9 L355.0,158.9 L356.0,158.9 L357.0,158.9 L358.0,158.9 L359.0,158.9 L360.0,158.9 L361.0,158.9 L362.0,158.9 L363.0,158.9 L364.0,158.9 L365.0,158.9 L366.0,158.9 L367.0,158.8 L368.0,158.8 L369.0,158.8 L370.0,158.8 L371.0,158.8 L372.0,158.8 L373.0,158.8 L374.0,158.8 L375.0,158.8 L376.0,158.8 L377.0,158.7 L378.0,158.7 L379.0,158.7 L380.0,158.7 L381.0,158.7 L382.0,158.7 L383.0,158.7 L384.0,158.6 L385.0,158.6 L386.0,158.6 L387.0,158.6 L388.0,158.6 L389.0,158.6 L390.0,158.5 L391.0,158.5 L392.0,158.5 L393.0,158.5 L394.0,158.4 L395.0,158.4 L396.0,158.4 L397.0,158.4 L398.0,158.3 L399.0,158.3 L400.0,158.3 L401.0,158.2 L402.0,158.2 L403.0,158.2 L404.0,158.1 L405.0,158.1 L406.0,158.0 L407.0,158.0 L408.0,157.9 L409.0,157.8 L410.0,157.8 L411.0,157.7 L412.0,157.6 L413.0,157.5 L414.0,157.4 L415.0,157.3 L416.0,157.2 L417.0,157.1 L418.0,156.9 L419.0,156.8 L420.0,156.6 L421.0,156.4 L422.0,156.2 L423.0,155.9 L424.0,155.7 L425.0,155.3 L426.0,154.9 L427.0,154.4 L428.0,153.8 L429.0,153.1 L430.0,152.1 L431.0,150.8 L432.0,149.3 L433.0,147.3 L434.0,144.7 L435.0,141.7 L436.0,137.9 L437.0,133.6 L438.0,128.6 L439.0,123.1 L440.0,117.3 L441.0,111.6 L442.0,106.7 L443.0,103.0 L444.0,101.4 L445.0,102.1 L446.0,105.0 L447.0,109.5 L448.0,115.0 L449.0,120.7 L450.0,126.4 L451.0,131.6 L452.0,136.2 L453.0,140.2 L454.0,143.5 L455.0,146.2 L456.0,148.4 L457.0,150.2 L458.0,151.5 L459.0,152.6 L460.0,153.4 L461.0,154.1 L462.0,154.6 L463.0,155.0 L464.0,155.4 L465.0,155.7 L466.0,155.9 L467.0,156.1 L468.0,156.3 L469.0,156.5 L470.0,156.7 L471.0,156.8 L472.0,156.9 L473.0,157.0 L474.0,157.1 L475.0,157.2 L476.0,157.3 L477.0,157.4 L478.0,157.5 L479.0,157.5 L480.0,157.6 L481.0,157.6 L482.0,157.7 L483.0,157.7 L484.0,157.8 L485.0,157.8 L486.0,157.8 L487.0,157.9 L488.0,157.9 L489.0,157.9 L490.0,157.9 L491.0,158.0 L492.0,158.0 L493.0,158.0 L494.0,158.0 L495.0,158.0 L496.0,158.1 L497.0,158.1 L498.0,158.1 L499.0,158.1 L500.0,158.1 L501.0,158.1 L502.0,158.1 L503.0,158.1 L504.0,158.1 L505.0,158.2 L506.0,158.2 L507.0,158.2 L508.0,158.2 L509.0,158.2 L510.0,158.2 L511.0,158.2 L512.0,158.2 L513.0,158.2 L514.0,158.2 L515.0,158.2 L516.0,158.2 L517.0,158.2 L518.0,158.2 L519.0,158.2 L520.0,158.2 L521.0,158.2 L522.0,158.2 L523.0,158.2 L524.0,158.2 L525.0,158.2 L526.0,158.2 L527.0,158.2 L528.0,158.2 L529.0,158.2 L530.0,158.2" fill="none" stroke="#4ea64e" stroke-width="1.7" stroke-linejoin="round" stroke-linecap="round" />
<path d="M305.0,159.1 L306.0,159.1 L307.0,159.1 L308.0,159.1 L309.0,159.1 L310.0,159.1 L311.0,159.1 L312.0,159.1 L313.0,159.1 L314.0,159.1 L315.0,159.1 L316.0,159.1 L317.0,159.1 L318.0,159.1 L319.0,159.1 L320.0,159.1 L321.0,159.1 L322.0,159.1 L323.0,159.1 L324.0,159.1 L325.0,159.1 L326.0,159.1 L327.0,159.1 L328.0,159.1 L329.0,159.1 L330.0,159.1 L331.0,159.1 L332.0,159.1 L333.0,159.1 L334.0,159.0 L335.0,159.0 L336.0,159.0 L337.0,159.0 L338.0,159.0 L339.0,159.0 L340.0,159.0 L341.0,159.0 L342.0,159.0 L343.0,159.0 L344.0,159.0 L345.0,159.0 L346.0,159.0 L347.0,159.0 L348.0,159.0 L349.0,159.0 L350.0,159.0 L351.0,159.0 L352.0,158.9 L353.0,158.9 L354.0,158.9 L355.0,158.9 L356.0,158.9 L357.0,158.9 L358.0,158.9 L359.0,158.9 L360.0,158.9 L361.0,158.9 L362.0,158.9 L363.0,158.8 L364.0,158.8 L365.0,158.8 L366.0,158.8 L367.0,158.8 L368.0,158.8 L369.0,158.8 L370.0,158.8 L371.0,158.7 L372.0,158.7 L373.0,158.7 L374.0,158.7 L375.0,158.7 L376.0,158.7 L377.0,158.6 L378.0,158.6 L379.0,158.6 L380.0,158.6 L381.0,158.5 L382.0,158.5 L383.0,158.5 L384.0,158.5 L385.0,158.4 L386.0,158.4 L387.0,158.3 L388.0,158.3 L389.0,158.2 L390.0,158.2 L391.0,158.1 L392.0,158.1 L393.0,158.0 L394.0,157.9 L395.0,157.9 L396.0,157.8 L397.0,157.7 L398.0,157.6 L399.0,157.4 L400.0,157.3 L401.0,157.1 L402.0,156.9 L403.0,156.7 L404.0,156.5 L405.0,156.2 L406.0,155.8 L407.0,155.3 L408.0,154.7 L409.0,154.0 L410.0,153.1 L411.0,151.9 L412.0,150.5 L413.0,148.8 L414.0,146.8 L415.0,144.5 L416.0,141.8 L417.0,139.0 L418.0,136.1 L419.0,133.4 L420.0,131.3 L421.0,130.1 L422.0,130.1 L423.0,131.3 L424.0,133.4 L425.0,136.1 L426.0,139.0 L427.0,141.8 L428.0,144.4 L429.0,146.7 L430.0,148.8 L431.0,150.4 L432.0,151.8 L433.0,153.0 L434.0,153.9 L435.0,154.6 L436.0,155.2 L437.0,155.7 L438.0,156.0 L439.0,156.3 L440.0,156.6 L441.0,156.8 L442.0,157.0 L443.0,157.1 L444.0,157.3 L445.0,157.4 L446.0,157.5 L447.0,157.6 L448.0,157.7 L449.0,157.8 L450.0,157.8 L451.0,157.9 L452.0,157.9 L453.0,158.0 L454.0,158.0 L455.0,158.1 L456.0,158.1 L457.0,158.1 L458.0,158.2 L459.0,158.2 L460.0,158.2 L461.0,158.2 L462.0,158.3 L463.0,158.3 L464.0,158.3 L465.0,158.3 L466.0,158.3 L467.0,158.3 L468.0,158.3 L469.0,158.4 L470.0,158.4 L471.0,158.4 L472.0,158.4 L473.0,158.4 L474.0,158.4 L475.0,158.4 L476.0,158.4 L477.0,158.4 L478.0,158.4 L479.0,158.4 L480.0,158.4 L481.0,158.4 L482.0,158.4 L483.0,158.4 L484.0,158.4 L485.0,158.4 L486.0,158.4 L487.0,158.4 L488.0,158.4 L489.0,158.4 L490.0,158.4 L491.0,158.4 L492.0,158.4 L493.0,158.4 L494.0,158.4 L495.0,158.4 L496.0,158.4 L497.0,158.4 L498.0,158.4 L499.0,158.4 L500.0,158.4 L501.0,158.4 L502.0,158.4 L503.0,158.4 L504.0,158.4 L505.0,158.4 L506.0,158.4 L507.0,158.4 L508.0,158.4 L509.0,158.4 L510.0,158.4 L511.0,158.4 L512.0,158.4 L513.0,158.4 L514.0,158.4 L515.0,158.4 L516.0,158.4 L517.0,158.4 L518.0,158.4 L519.0,158.4 L520.0,158.4 L521.0,158.4 L522.0,158.4 L523.0,158.4 L524.0,158.4 L525.0,158.4 L526.0,158.3 L527.0,158.3 L528.0,158.3 L529.0,158.3 L530.0,158.3" fill="none" stroke="#f28c38" stroke-width="1.7" stroke-linejoin="round" stroke-linecap="round" />
<path d="M305.0,206.0 L306.0,205.6 L307.0,205.6 L308.0,206.4 L309.0,204.8 L310.0,206.1 L311.0,205.5 L312.0,206.3 L313.0,205.7 L314.0,205.2 L315.0,205.7 L316.0,206.0 L317.0,205.6 L318.0,205.8 L319.0,205.3 L320.0,204.4 L321.0,206.0 L322.0,205.9 L323.0,205.6 L324.0,205.6 L325.0,206.1 L326.0,205.3 L327.0,205.1 L328.0,205.4 L329.0,206.2 L330.0,204.8 L331.0,206.2 L332.0,205.2 L333.0,204.9 L334.0,206.2 L335.0,205.5 L336.0,204.8 L337.0,205.3 L338.0,206.0 L339.0,206.1 L340.0,205.3 L341.0,205.7 L342.0,205.9 L343.0,205.1 L344.0,205.7 L345.0,205.4 L346.0,205.2 L347.0,205.2 L348.0,205.5 L349.0,205.5 L350.0,205.1 L351.0,205.2 L352.0,206.0 L353.0,205.5 L354.0,205.9 L355.0,206.0 L356.0,205.7 L357.0,206.6 L358.0,204.9 L359.0,205.8 L360.0,205.1 L361.0,206.3 L362.0,206.2 L363.0,204.2 L364.0,204.7 L365.0,205.6 L366.0,205.6 L367.0,205.5 L368.0,205.1 L369.0,205.3 L370.0,205.4 L371.0,205.0 L372.0,205.5 L373.0,203.7 L374.0,205.2 L375.0,204.2 L376.0,205.2 L377.0,204.5 L378.0,204.1 L379.0,204.6 L380.0,203.8 L381.0,203.7 L382.0,203.2 L383.0,203.8 L384.0,203.9 L385.0,204.0 L386.0,203.0 L387.0,203.4 L388.0,202.5 L389.0,202.0 L390.0,201.9 L391.0,201.6 L392.0,200.2 L393.0,199.6 L394.0,198.9 L395.0,198.1 L396.0,196.7 L397.0,196.7 L398.0,194.8 L399.0,194.1 L400.0,192.1 L401.0,191.4 L402.0,190.1 L403.0,188.2 L404.0,188.0 L405.0,185.6 L406.0,184.9 L407.0,183.0 L408.0,180.7 L409.0,179.5 L410.0,178.7 L411.0,177.4 L412.0,176.4 L413.0,175.4 L414.0,173.9 L415.0,174.3 L416.0,172.8 L417.0,174.0 L418.0,173.2 L419.0,173.1 L420.0,173.3 L421.0,173.4 L422.0,172.2 L423.0,171.7 L424.0,171.6 L425.0,170.5 L426.0,170.5 L427.0,171.1 L428.0,168.7 L429.0,168.7 L430.0,166.4 L431.0,166.2 L432.0,164.7 L433.0,163.8 L434.0,163.3 L435.0,163.3 L436.0,162.3 L437.0,162.5 L438.0,162.8 L439.0,165.0 L440.0,166.6 L441.0,169.6 L442.0,171.9 L443.0,176.0 L444.0,177.2 L445.0,181.4 L446.0,185.2 L447.0,187.6 L448.0,190.2 L449.0,193.1 L450.0,194.8 L451.0,197.7 L452.0,200.8 L453.0,201.6 L454.0,201.6 L455.0,202.7 L456.0,203.8 L457.0,205.3 L458.0,204.8 L459.0,205.3 L460.0,206.5 L461.0,206.8 L462.0,206.3 L463.0,206.1 L464.0,206.0 L465.0,206.6 L466.0,205.9 L467.0,207.6 L468.0,206.9 L469.0,207.6 L470.0,208.5 L471.0,208.2 L472.0,206.9 L473.0,208.1 L474.0,208.3 L475.0,207.3 L476.0,207.3 L477.0,207.8 L478.0,207.0 L479.0,208.8 L480.0,206.7 L481.0,207.4 L482.0,207.9 L483.0,208.0 L484.0,208.2 L485.0,208.3 L486.0,208.1 L487.0,208.9 L488.0,207.1 L489.0,208.3 L490.0,208.0 L491.0,208.4 L492.0,208.5 L493.0,207.9 L494.0,208.1 L495.0,208.9 L496.0,208.7 L497.0,208.2 L498.0,209.7 L499.0,209.9 L500.0,207.8 L501.0,208.8 L502.0,210.0 L503.0,209.1 L504.0,208.8 L505.0,208.6 L506.0,208.4 L507.0,208.6 L508.0,208.5 L509.0,209.2 L510.0,208.6 L511.0,208.6 L512.0,208.2 L513.0,208.8 L514.0,208.4 L515.0,208.8 L516.0,209.5 L517.0,209.1 L518.0,209.2 L519.0,209.1 L520.0,209.0 L521.0,208.9 L522.0,208.8 L523.0,209.4 L524.0,208.4 L525.0,209.8 L526.0,209.1 L527.0,208.6 L528.0,208.8 L529.0,208.7 L530.0,209.2" fill="none" stroke="#000000" stroke-width="1.9" stroke-linejoin="round" stroke-linecap="round" />
<path d="M305.0,205.8 L306.0,205.8 L307.0,205.8 L308.0,205.8 L309.0,205.8 L310.0,205.8 L311.0,205.8 L312.0,205.8 L313.0,205.8 L314.0,205.8 L315.0,205.8 L316.0,205.8 L317.0,205.8 L318.0,205.8 L319.0,205.8 L320.0,205.8 L321.0,205.8 L322.0,205.8 L323.0,205.8 L324.0,205.8 L325.0,205.8 L326.0,205.8 L327.0,205.8 L328.0,205.8 L329.0,205.8 L330.0,205.8 L331.0,205.8 L332.0,205.8 L333.0,205.8 L334.0,205.8 L335.0,205.8 L336.0,205.8 L337.0,205.9 L338.0,205.9 L339.0,205.9 L340.0,205.9 L341.0,205.9 L342.0,205.9 L343.0,205.9 L344.0,205.9 L345.0,205.9 L346.0,205.9 L347.0,205.9 L348.0,205.9 L349.0,205.9 L350.0,205.9 L351.0,205.9 L352.0,205.9 L353.0,206.0 L354.0,206.0 L355.0,206.0 L356.0,206.0 L357.0,206.0 L358.0,206.0 L359.0,206.0 L360.0,206.0 L361.0,206.0 L362.0,206.0 L363.0,206.0 L364.0,206.0 L365.0,206.0 L366.0,206.0 L367.0,206.0 L368.0,206.0 L369.0,206.1 L370.0,206.1 L371.0,206.1 L372.0,206.1 L373.0,206.1 L374.0,206.1 L375.0,206.1 L376.0,206.1 L377.0,206.1 L378.0,206.1 L379.0,206.1 L380.0,206.1 L381.0,206.1 L382.0,206.1 L383.0,206.1 L384.0,206.1 L385.0,206.1 L386.0,206.1 L387.0,206.2 L388.0,206.2 L389.0,206.2 L390.0,206.2 L391.0,206.2 L392.0,206.2 L393.0,206.2 L394.0,206.2 L395.0,206.2 L396.0,206.2 L397.0,206.2 L398.0,206.2 L399.0,206.2 L400.0,206.2 L401.0,206.3 L402.0,206.3 L403.0,206.3 L404.0,206.3 L405.0,206.2 L406.0,206.2 L407.0,206.2 L408.0,206.2 L409.0,206.2 L410.0,206.2 L411.0,206.1 L412.0,206.0 L413.0,205.9 L414.0,205.8 L415.0,205.6 L416.0,205.4 L417.0,205.1 L418.0,204.7 L419.0,204.1 L420.0,203.4 L421.0,202.5 L422.0,201.4 L423.0,200.1 L424.0,198.5 L425.0,196.6 L426.0,194.5 L427.0,192.1 L428.0,189.5 L429.0,186.7 L430.0,183.7 L431.0,180.7 L432.0,177.8 L433.0,175.1 L434.0,172.6 L435.0,170.6 L436.0,169.2 L437.0,168.5 L438.0,168.4 L439.0,169.1 L440.0,170.5 L441.0,172.4 L442.0,174.8 L443.0,177.6 L444.0,180.5 L445.0,183.6 L446.0,186.6 L447.0,189.5 L448.0,192.2 L449.0,194.7 L450.0,197.0 L451.0,199.0 L452.0,200.7 L453.0,202.1 L454.0,203.3 L455.0,204.3 L456.0,205.1 L457.0,205.7 L458.0,206.2 L459.0,206.6 L460.0,206.9 L461.0,207.1 L462.0,207.3 L463.0,207.5 L464.0,207.6 L465.0,207.7 L466.0,207.8 L467.0,207.9 L468.0,207.9 L469.0,208.0 L470.0,208.0 L471.0,208.1 L472.0,208.1 L473.0,208.2 L474.0,208.2 L475.0,208.2 L476.0,208.3 L477.0,208.3 L478.0,208.3 L479.0,208.4 L480.0,208.4 L481.0,208.4 L482.0,208.5 L483.0,208.5 L484.0,208.5 L485.0,208.5 L486.0,208.6 L487.0,208.6 L488.0,208.6 L489.0,208.6 L490.0,208.7 L491.0,208.7 L492.0,208.7 L493.0,208.7 L494.0,208.7 L495.0,208.8 L496.0,208.8 L497.0,208.8 L498.0,208.8 L499.0,208.8 L500.0,208.9 L501.0,208.9 L502.0,208.9 L503.0,208.9 L504.0,208.9 L505.0,208.9 L506.0,209.0 L507.0,209.0 L508.0,209.0 L509.0,209.0 L510.0,209.0 L511.0,209.0 L512.0,209.0 L513.0,209.0 L514.0,209.1 L515.0,209.1 L516.0,209.1 L517.0,209.1 L518.0,209.1 L519.0,209.1 L520.0,209.1 L521.0,209.1 L522.0,209.2 L523.0,209.2 L524.0,209.2 L525.0,209.2 L526.0,209.2 L527.0,209.2 L528.0,209.2 L529.0,209.2 L530.0,209.2" fill="none" stroke="#4ea64e" stroke-width="1.7" stroke-linejoin="round" stroke-linecap="round" />
<path d="M305.0,205.6 L306.0,205.6 L307.0,205.6 L308.0,205.6 L309.0,205.6 L310.0,205.6 L311.0,205.6 L312.0,205.6 L313.0,205.6 L314.0,205.6 L315.0,205.6 L316.0,205.6 L317.0,205.6 L318.0,205.6 L319.0,205.6 L320.0,205.6 L321.0,205.6 L322.0,205.6 L323.0,205.6 L324.0,205.6 L325.0,205.6 L326.0,205.6 L327.0,205.6 L328.0,205.6 L329.0,205.6 L330.0,205.6 L331.0,205.6 L332.0,205.6 L333.0,205.6 L334.0,205.6 L335.0,205.6 L336.0,205.6 L337.0,205.6 L338.0,205.6 L339.0,205.6 L340.0,205.6 L341.0,205.6 L342.0,205.5 L343.0,205.5 L344.0,205.5 L345.0,205.5 L346.0,205.5 L347.0,205.5 L348.0,205.5 L349.0,205.5 L350.0,205.5 L351.0,205.5 L352.0,205.5 L353.0,205.5 L354.0,205.5 L355.0,205.5 L356.0,205.5 L357.0,205.4 L358.0,205.4 L359.0,205.4 L360.0,205.4 L361.0,205.4 L362.0,205.4 L363.0,205.4 L364.0,205.3 L365.0,205.3 L366.0,205.3 L367.0,205.3 L368.0,205.2 L369.0,205.2 L370.0,205.2 L371.0,205.1 L372.0,205.1 L373.0,205.1 L374.0,205.0 L375.0,204.9 L376.0,204.9 L377.0,204.8 L378.0,204.7 L379.0,204.6 L380.0,204.5 L381.0,204.4 L382.0,204.2 L383.0,204.1 L384.0,203.9 L385.0,203.6 L386.0,203.4 L387.0,203.1 L388.0,202.7 L389.0,202.3 L390.0,201.8 L391.0,201.3 L392.0,200.7 L393.0,200.0 L394.0,199.3 L395.0,198.4 L396.0,197.5 L397.0,196.5 L398.0,195.4 L399.0,194.3 L400.0,193.0 L401.0,191.7 L402.0,190.3 L403.0,188.9 L404.0,187.5 L405.0,186.0 L406.0,184.6 L407.0,183.2 L408.0,181.8 L409.0,180.6 L410.0,179.5 L411.0,178.6 L412.0,177.8 L413.0,177.4 L414.0,177.1 L415.0,177.2 L416.0,177.5 L417.0,178.1 L418.0,179.0 L419.0,180.2 L420.0,181.5 L421.0,182.9 L422.0,184.5 L423.0,186.1 L424.0,187.7 L425.0,189.4 L426.0,191.0 L427.0,192.5 L428.0,194.0 L429.0,195.4 L430.0,196.7 L431.0,197.9 L432.0,199.0 L433.0,200.0 L434.0,200.9 L435.0,201.7 L436.0,202.4 L437.0,203.1 L438.0,203.7 L439.0,204.2 L440.0,204.6 L441.0,205.0 L442.0,205.3 L443.0,205.6 L444.0,205.8 L445.0,206.0 L446.0,206.2 L447.0,206.4 L448.0,206.6 L449.0,206.7 L450.0,206.8 L451.0,206.9 L452.0,207.0 L453.0,207.1 L454.0,207.2 L455.0,207.3 L456.0,207.3 L457.0,207.4 L458.0,207.5 L459.0,207.5 L460.0,207.6 L461.0,207.6 L462.0,207.7 L463.0,207.7 L464.0,207.8 L465.0,207.8 L466.0,207.9 L467.0,207.9 L468.0,207.9 L469.0,208.0 L470.0,208.0 L471.0,208.1 L472.0,208.1 L473.0,208.1 L474.0,208.2 L475.0,208.2 L476.0,208.2 L477.0,208.2 L478.0,208.3 L479.0,208.3 L480.0,208.3 L481.0,208.4 L482.0,208.4 L483.0,208.4 L484.0,208.4 L485.0,208.5 L486.0,208.5 L487.0,208.5 L488.0,208.5 L489.0,208.5 L490.0,208.6 L491.0,208.6 L492.0,208.6 L493.0,208.6 L494.0,208.7 L495.0,208.7 L496.0,208.7 L497.0,208.7 L498.0,208.7 L499.0,208.7 L500.0,208.8 L501.0,208.8 L502.0,208.8 L503.0,208.8 L504.0,208.8 L505.0,208.9 L506.0,208.9 L507.0,208.9 L508.0,208.9 L509.0,208.9 L510.0,208.9 L511.0,208.9 L512.0,209.0 L513.0,209.0 L514.0,209.0 L515.0,209.0 L516.0,209.0 L517.0,209.0 L518.0,209.0 L519.0,209.0 L520.0,209.1 L521.0,209.1 L522.0,209.1 L523.0,209.1 L524.0,209.1 L525.0,209.1 L526.0,209.1 L527.0,209.1 L528.0,209.1 L529.0,209.1 L530.0,209.2" fill="none" stroke="#f28c38" stroke-width="1.7" stroke-linejoin="round" stroke-linecap="round" />
<path d="M445,11 L445,131.3 L437.4,144.2 L437.4,195.8" fill="none" stroke="#1a1a1a" stroke-width="1.3" stroke-dasharray="1.5,1.6"/>
<path d="M30.7,373.9 L31.7,374.9 L32.7,373.9 L33.7,373.0 L34.7,373.9 L35.7,373.2 L36.7,374.2 L37.7,374.8 L38.7,374.6 L39.7,373.4 L40.7,373.7 L41.7,375.1 L42.7,374.3 L43.7,374.1 L44.7,374.6 L45.7,375.4 L46.7,374.7 L47.7,374.0 L48.7,374.1 L49.7,374.2 L50.7,373.5 L51.7,373.2 L52.7,373.7 L53.7,373.2 L54.7,373.6 L55.7,373.6 L56.7,374.8 L57.7,373.0 L58.7,373.3 L59.7,373.3 L60.7,373.5 L61.7,373.8 L62.7,372.9 L63.7,372.7 L64.7,372.1 L65.7,372.5 L66.7,373.2 L67.7,372.9 L68.7,372.2 L69.7,372.5 L70.7,372.7 L71.7,372.8 L72.7,372.1 L73.7,372.2 L74.7,371.2 L75.7,371.5 L76.7,372.9 L77.7,370.6 L78.7,371.5 L79.7,371.6 L80.7,371.2 L81.7,370.7 L82.7,371.0 L83.7,370.8 L84.7,370.6 L85.7,369.4 L86.7,370.2 L87.7,369.6 L88.7,369.5 L89.7,369.7 L90.7,369.7 L91.7,369.6 L92.7,368.6 L93.7,369.1 L94.7,368.9 L95.7,368.6 L96.7,368.4 L97.7,367.2 L98.7,366.8 L99.7,367.0 L100.7,365.4 L101.7,365.9 L102.7,365.1 L103.7,364.8 L104.7,363.5 L105.7,363.5 L106.7,363.4 L107.7,363.2 L108.7,362.6 L109.7,361.4 L110.7,360.5 L111.7,359.4 L112.7,359.2 L113.7,357.9 L114.7,357.3 L115.7,356.8 L116.7,354.6 L117.7,352.6 L118.7,351.6 L119.7,349.8 L120.7,348.4 L121.7,348.0 L122.7,345.5 L123.7,342.5 L124.7,341.5 L125.7,339.7 L126.7,336.3 L127.7,333.4 L128.7,330.8 L129.7,328.3 L130.7,326.0 L131.7,323.8 L132.7,321.3 L133.7,318.9 L134.7,316.9 L135.7,314.6 L136.7,311.7 L137.7,310.9 L138.7,309.7 L139.7,308.1 L140.7,307.7 L141.7,305.8 L142.7,304.4 L143.7,305.0 L144.7,304.4 L145.7,304.4 L146.7,305.3 L147.7,306.1 L148.7,306.6 L149.7,305.9 L150.7,307.8 L151.7,308.6 L152.7,308.9 L153.7,310.3 L154.7,311.6 L155.7,311.3 L156.7,311.4 L157.7,313.5 L158.7,312.3 L159.7,311.8 L160.7,312.5 L161.7,312.5 L162.7,311.7 L163.7,312.4 L164.7,311.6 L165.7,311.2 L166.7,311.7 L167.7,311.9 L168.7,311.0 L169.7,311.5 L170.7,311.3 L171.7,313.0 L172.7,311.4 L173.7,313.0 L174.7,312.8 L175.7,313.8 L176.7,316.5 L177.7,319.2 L178.7,321.9 L179.7,323.8 L180.7,325.8 L181.7,328.4 L182.7,331.7 L183.7,334.4 L184.7,337.6 L185.7,339.9 L186.7,343.3 L187.7,346.6 L188.7,349.0 L189.7,351.0 L190.7,354.0 L191.7,356.7 L192.7,361.2 L193.7,362.5 L194.7,366.1 L195.7,367.7 L196.7,369.9 L197.7,370.9 L198.7,371.6 L199.7,372.8 L200.7,373.9 L201.7,374.8 L202.7,374.9 L203.7,375.6 L204.7,376.8 L205.7,375.3 L206.7,376.7 L207.7,376.3 L208.7,377.2 L209.7,377.8 L210.7,377.4 L211.7,378.1 L212.7,376.9 L213.7,378.5 L214.7,377.6 L215.7,378.4 L216.7,378.2 L217.7,376.8 L218.7,377.8 L219.7,378.4 L220.7,379.2 L221.7,378.6 L222.7,378.6 L223.7,377.8 L224.7,379.4 L225.7,379.7 L226.7,378.7 L227.7,378.6 L228.7,377.9 L229.7,379.4 L230.7,380.4 L231.7,379.3 L232.7,379.7 L233.7,379.3 L234.7,378.5 L235.7,379.8 L236.7,378.5 L237.7,379.1 L238.7,379.4 L239.7,379.7 L240.7,379.5 L241.7,379.5 L242.7,378.9 L243.7,378.6 L244.7,379.4 L245.7,379.0 L246.7,378.7 L247.7,378.7 L248.7,379.2 L249.7,378.4 L250.7,378.7 L251.7,378.6 L252.7,379.6 L253.7,379.7 L254.7,380.6 L255.7,378.7" fill="none" stroke="#ff0000" stroke-width="1.9" stroke-linejoin="round" stroke-linecap="round" />
<path d="M30.7,374.3 L31.7,374.3 L32.7,374.3 L33.7,374.3 L34.7,374.3 L35.7,374.3 L36.7,374.3 L37.7,374.3 L38.7,374.3 L39.7,374.2 L40.7,374.2 L41.7,374.2 L42.7,374.2 L43.7,374.2 L44.7,374.2 L45.7,374.2 L46.7,374.2 L47.7,374.2 L48.7,374.2 L49.7,374.2 L50.7,374.2 L51.7,374.2 L52.7,374.2 L53.7,374.2 L54.7,374.2 L55.7,374.2 L56.7,374.2 L57.7,374.2 L58.7,374.2 L59.7,374.2 L60.7,374.1 L61.7,374.1 L62.7,374.1 L63.7,374.1 L64.7,374.1 L65.7,374.1 L66.7,374.1 L67.7,374.1 L68.7,374.1 L69.7,374.1 L70.7,374.1 L71.7,374.1 L72.7,374.1 L73.7,374.1 L74.7,374.1 L75.7,374.1 L76.7,374.1 L77.7,374.1 L78.7,374.1 L79.7,374.1 L80.7,374.1 L81.7,374.1 L82.7,374.1 L83.7,374.1 L84.7,374.1 L85.7,374.0 L86.7,374.0 L87.7,374.0 L88.7,374.0 L89.7,374.0 L90.7,374.0 L91.7,374.0 L92.7,374.0 L93.7,374.0 L94.7,374.0 L95.7,374.0 L96.7,374.0 L97.7,374.0 L98.7,374.0 L99.7,374.0 L100.7,374.0 L101.7,374.0 L102.7,374.0 L103.7,374.0 L104.7,374.0 L105.7,374.0 L106.7,374.0 L107.7,374.0 L108.7,374.0 L109.7,374.0 L110.7,374.0 L111.7,374.0 L112.7,374.0 L113.7,374.0 L114.7,374.0 L115.7,374.0 L116.7,374.0 L117.7,374.0 L118.7,374.0 L119.7,374.0 L120.7,374.0 L121.7,374.0 L122.7,374.0 L123.7,374.0 L124.7,374.0 L125.7,374.0 L126.7,374.0 L127.7,374.0 L128.7,373.9 L129.7,373.9 L130.7,373.9 L131.7,373.9 L132.7,373.9 L133.7,373.9 L134.7,373.9 L135.7,373.9 L136.7,373.9 L137.7,373.9 L138.7,373.9 L139.7,373.9 L140.7,373.9 L141.7,373.8 L142.7,373.6 L143.7,373.3 L144.7,373.0 L145.7,372.6 L146.7,372.1 L147.7,371.6 L148.7,371.1 L149.7,370.5 L150.7,369.9 L151.7,369.2 L152.7,368.4 L153.7,367.3 L154.7,366.1 L155.7,364.7 L156.7,363.1 L157.7,361.5 L158.7,359.5 L159.7,357.1 L160.7,354.3 L161.7,351.5 L162.7,348.6 L163.7,345.9 L164.7,342.9 L165.7,340.0 L166.7,337.5 L167.7,335.8 L168.7,334.3 L169.7,332.9 L170.7,331.6 L171.7,330.5 L172.7,329.7 L173.7,329.1 L174.7,328.9 L175.7,329.1 L176.7,329.7 L177.7,330.7 L178.7,331.9 L179.7,333.3 L180.7,334.7 L181.7,336.3 L182.7,338.3 L183.7,340.6 L184.7,343.1 L185.7,345.6 L186.7,348.0 L187.7,350.6 L188.7,353.3 L189.7,356.0 L190.7,358.5 L191.7,360.7 L192.7,362.7 L193.7,364.6 L194.7,366.4 L195.7,368.0 L196.7,369.5 L197.7,370.8 L198.7,371.9 L199.7,372.8 L200.7,373.7 L201.7,374.6 L202.7,375.3 L203.7,376.0 L204.7,376.6 L205.7,377.0 L206.7,377.3 L207.7,377.5 L208.7,377.6 L209.7,377.8 L210.7,377.9 L211.7,378.0 L212.7,378.1 L213.7,378.2 L214.7,378.3 L215.7,378.4 L216.7,378.4 L217.7,378.5 L218.7,378.5 L219.7,378.6 L220.7,378.6 L221.7,378.7 L222.7,378.7 L223.7,378.8 L224.7,378.8 L225.7,378.8 L226.7,378.9 L227.7,378.9 L228.7,378.9 L229.7,379.0 L230.7,379.0 L231.7,379.0 L232.7,379.1 L233.7,379.1 L234.7,379.1 L235.7,379.2 L236.7,379.2 L237.7,379.2 L238.7,379.3 L239.7,379.3 L240.7,379.3 L241.7,379.3 L242.7,379.3 L243.7,379.4 L244.7,379.4 L245.7,379.4 L246.7,379.4 L247.7,379.4 L248.7,379.4 L249.7,379.5 L250.7,379.5 L251.7,379.5 L252.7,379.5 L253.7,379.5 L254.7,379.5 L255.7,379.5" fill="none" stroke="#4ea64e" stroke-width="1.7" stroke-linejoin="round" stroke-linecap="round" />
<path d="M30.7,374.5 L31.7,374.5 L32.7,374.5 L33.7,374.5 L34.7,374.5 L35.7,374.5 L36.7,374.4 L37.7,374.4 L38.7,374.4 L39.7,374.4 L40.7,374.4 L41.7,374.3 L42.7,374.3 L43.7,374.3 L44.7,374.3 L45.7,374.2 L46.7,374.2 L47.7,374.2 L48.7,374.1 L49.7,374.1 L50.7,374.0 L51.7,374.0 L52.7,374.0 L53.7,373.9 L54.7,373.9 L55.7,373.8 L56.7,373.8 L57.7,373.7 L58.7,373.7 L59.7,373.6 L60.7,373.6 L61.7,373.5 L62.7,373.4 L63.7,373.4 L64.7,373.3 L65.7,373.3 L66.7,373.2 L67.7,373.1 L68.7,373.1 L69.7,373.0 L70.7,373.0 L71.7,372.9 L72.7,372.8 L73.7,372.7 L74.7,372.6 L75.7,372.4 L76.7,372.3 L77.7,372.1 L78.7,372.0 L79.7,371.8 L80.7,371.7 L81.7,371.5 L82.7,371.3 L83.7,371.1 L84.7,370.9 L85.7,370.7 L86.7,370.5 L87.7,370.3 L88.7,370.1 L89.7,369.9 L90.7,369.7 L91.7,369.4 L92.7,369.1 L93.7,368.9 L94.7,368.6 L95.7,368.3 L96.7,368.0 L97.7,367.6 L98.7,367.3 L99.7,367.0 L100.7,366.6 L101.7,366.2 L102.7,365.8 L103.7,365.4 L104.7,364.9 L105.7,364.4 L106.7,363.8 L107.7,363.2 L108.7,362.6 L109.7,361.9 L110.7,361.2 L111.7,360.4 L112.7,359.5 L113.7,358.5 L114.7,357.5 L115.7,356.4 L116.7,355.2 L117.7,353.9 L118.7,352.6 L119.7,351.1 L120.7,349.5 L121.7,347.7 L122.7,345.7 L123.7,343.7 L124.7,341.5 L125.7,339.3 L126.7,336.8 L127.7,334.1 L128.7,331.3 L129.7,328.6 L130.7,326.0 L131.7,323.5 L132.7,321.0 L133.7,318.6 L134.7,316.5 L135.7,314.7 L136.7,313.0 L137.7,311.4 L138.7,310.0 L139.7,309.0 L140.7,308.4 L141.7,307.9 L142.7,307.6 L143.7,307.4 L144.7,307.3 L145.7,307.5 L146.7,308.0 L147.7,308.6 L148.7,309.3 L149.7,310.1 L150.7,311.3 L151.7,312.8 L152.7,314.6 L153.7,316.6 L154.7,318.6 L155.7,320.9 L156.7,323.8 L157.7,327.0 L158.7,330.3 L159.7,333.4 L160.7,336.2 L161.7,339.0 L162.7,341.6 L163.7,344.1 L164.7,346.3 L165.7,348.5 L166.7,350.5 L167.7,352.5 L168.7,354.4 L169.7,356.1 L170.7,357.8 L171.7,359.4 L172.7,360.9 L173.7,362.3 L174.7,363.7 L175.7,365.0 L176.7,366.3 L177.7,367.5 L178.7,368.6 L179.7,369.5 L180.7,370.4 L181.7,371.1 L182.7,371.8 L183.7,372.5 L184.7,373.1 L185.7,373.8 L186.7,374.4 L187.7,374.9 L188.7,375.4 L189.7,375.9 L190.7,376.3 L191.7,376.7 L192.7,377.0 L193.7,377.2 L194.7,377.3 L195.7,377.4 L196.7,377.5 L197.7,377.6 L198.7,377.7 L199.7,377.8 L200.7,377.9 L201.7,378.0 L202.7,378.0 L203.7,378.1 L204.7,378.2 L205.7,378.2 L206.7,378.3 L207.7,378.3 L208.7,378.4 L209.7,378.4 L210.7,378.4 L211.7,378.5 L212.7,378.5 L213.7,378.6 L214.7,378.6 L215.7,378.6 L216.7,378.7 L217.7,378.7 L218.7,378.7 L219.7,378.8 L220.7,378.8 L221.7,378.8 L222.7,378.9 L223.7,378.9 L224.7,378.9 L225.7,378.9 L226.7,379.0 L227.7,379.0 L228.7,379.0 L229.7,379.1 L230.7,379.1 L231.7,379.1 L232.7,379.1 L233.7,379.2 L234.7,379.2 L235.7,379.2 L236.7,379.2 L237.7,379.3 L238.7,379.3 L239.7,379.3 L240.7,379.3 L241.7,379.3 L242.7,379.4 L243.7,379.4 L244.7,379.4 L245.7,379.4 L246.7,379.4 L247.7,379.4 L248.7,379.5 L249.7,379.5 L250.7,379.5 L251.7,379.5 L252.7,379.5 L253.7,379.5 L254.7,379.5 L255.7,379.5" fill="none" stroke="#f28c38" stroke-width="1.7" stroke-linejoin="round" stroke-linecap="round" />
<path d="M30.7,464.3 L31.7,465.2 L32.7,464.5 L33.7,464.4 L34.7,465.5 L35.7,464.3 L36.7,463.8 L37.7,463.7 L38.7,464.5 L39.7,464.5 L40.7,463.5 L41.7,463.6 L42.7,464.4 L43.7,464.3 L44.7,463.6 L45.7,464.2 L46.7,464.1 L47.7,462.7 L48.7,463.4 L49.7,463.7 L50.7,463.1 L51.7,462.2 L52.7,463.1 L53.7,463.6 L54.7,463.9 L55.7,461.7 L56.7,464.3 L57.7,462.1 L58.7,463.2 L59.7,463.2 L60.7,463.0 L61.7,462.4 L62.7,461.6 L63.7,462.4 L64.7,461.6 L65.7,460.4 L66.7,463.2 L67.7,461.9 L68.7,462.4 L69.7,460.7 L70.7,461.8 L71.7,461.7 L72.7,461.5 L73.7,460.5 L74.7,459.6 L75.7,460.0 L76.7,458.7 L77.7,458.7 L78.7,459.5 L79.7,458.6 L80.7,458.8 L81.7,458.5 L82.7,459.3 L83.7,458.7 L84.7,457.6 L85.7,457.9 L86.7,456.4 L87.7,456.3 L88.7,456.6 L89.7,454.9 L90.7,455.0 L91.7,454.0 L92.7,454.3 L93.7,454.6 L94.7,452.7 L95.7,452.6 L96.7,451.4 L97.7,450.6 L98.7,449.8 L99.7,450.6 L100.7,450.3 L101.7,448.5 L102.7,447.0 L103.7,446.9 L104.7,445.5 L105.7,445.1 L106.7,443.6 L107.7,442.4 L108.7,441.2 L109.7,439.2 L110.7,437.8 L111.7,435.6 L112.7,434.9 L113.7,432.8 L114.7,432.1 L115.7,430.2 L116.7,429.4 L117.7,428.3 L118.7,426.1 L119.7,425.2 L120.7,423.9 L121.7,423.6 L122.7,422.9 L123.7,421.3 L124.7,419.5 L125.7,419.5 L126.7,417.0 L127.7,417.9 L128.7,416.0 L129.7,414.2 L130.7,416.5 L131.7,415.3 L132.7,413.4 L133.7,413.6 L134.7,413.1 L135.7,413.1 L136.7,412.2 L137.7,413.0 L138.7,414.2 L139.7,414.8 L140.7,416.1 L141.7,416.5 L142.7,418.7 L143.7,417.9 L144.7,419.3 L145.7,419.0 L146.7,420.5 L147.7,423.0 L148.7,422.9 L149.7,424.8 L150.7,425.6 L151.7,426.1 L152.7,427.4 L153.7,428.1 L154.7,428.7 L155.7,429.9 L156.7,430.3 L157.7,430.1 L158.7,430.4 L159.7,431.5 L160.7,431.7 L161.7,432.9 L162.7,434.2 L163.7,433.6 L164.7,433.6 L165.7,434.0 L166.7,434.2 L167.7,434.8 L168.7,435.5 L169.7,436.8 L170.7,437.8 L171.7,439.7 L172.7,440.3 L173.7,441.7 L174.7,442.5 L175.7,445.4 L176.7,446.3 L177.7,448.5 L178.7,449.6 L179.7,451.5 L180.7,452.1 L181.7,454.1 L182.7,456.5 L183.7,455.7 L184.7,458.3 L185.7,459.8 L186.7,460.3 L187.7,461.6 L188.7,462.8 L189.7,462.5 L190.7,463.9 L191.7,464.0 L192.7,464.8 L193.7,465.6 L194.7,466.5 L195.7,467.2 L196.7,467.8 L197.7,467.1 L198.7,469.2 L199.7,468.9 L200.7,468.8 L201.7,468.3 L202.7,468.6 L203.7,469.0 L204.7,469.1 L205.7,468.0 L206.7,469.4 L207.7,470.7 L208.7,468.1 L209.7,469.8 L210.7,469.5 L211.7,469.3 L212.7,470.2 L213.7,468.8 L214.7,469.6 L215.7,470.4 L216.7,469.5 L217.7,469.4 L218.7,469.7 L219.7,469.4 L220.7,470.6 L221.7,469.2 L222.7,470.3 L223.7,469.1 L224.7,470.2 L225.7,469.8 L226.7,468.4 L227.7,469.9 L228.7,469.3 L229.7,469.7 L230.7,470.8 L231.7,469.4 L232.7,469.4 L233.7,470.9 L234.7,470.1 L235.7,471.0 L236.7,470.3 L237.7,469.6 L238.7,470.1 L239.7,470.8 L240.7,470.7 L241.7,470.2 L242.7,470.2 L243.7,470.1 L244.7,469.9 L245.7,471.3 L246.7,470.2 L247.7,469.6 L248.7,470.0 L249.7,470.7 L250.7,470.6 L251.7,470.2 L252.7,469.9 L253.7,470.3 L254.7,469.4 L255.7,469.6" fill="none" stroke="#000000" stroke-width="1.9" stroke-linejoin="round" stroke-linecap="round" />
<path d="M30.7,464.7 L31.7,464.6 L32.7,464.6 L33.7,464.5 L34.7,464.5 L35.7,464.4 L36.7,464.4 L37.7,464.3 L38.7,464.3 L39.7,464.3 L40.7,464.2 L41.7,464.2 L42.7,464.1 L43.7,464.1 L44.7,464.1 L45.7,464.0 L46.7,464.0 L47.7,464.0 L48.7,463.9 L49.7,463.9 L50.7,463.9 L51.7,463.8 L52.7,463.8 L53.7,463.8 L54.7,463.8 L55.7,463.7 L56.7,463.7 L57.7,463.7 L58.7,463.7 L59.7,463.6 L60.7,463.6 L61.7,463.6 L62.7,463.6 L63.7,463.5 L64.7,463.5 L65.7,463.5 L66.7,463.5 L67.7,463.5 L68.7,463.5 L69.7,463.4 L70.7,463.4 L71.7,463.4 L72.7,463.4 L73.7,463.4 L74.7,463.4 L75.7,463.4 L76.7,463.4 L77.7,463.4 L78.7,463.3 L79.7,463.3 L80.7,463.3 L81.7,463.3 L82.7,463.3 L83.7,463.3 L84.7,463.3 L85.7,463.3 L86.7,463.3 L87.7,463.3 L88.7,463.3 L89.7,463.3 L90.7,463.3 L91.7,463.3 L92.7,463.3 L93.7,463.3 L94.7,463.3 L95.7,463.3 L96.7,463.4 L97.7,463.4 L98.7,463.4 L99.7,463.4 L100.7,463.5 L101.7,463.5 L102.7,463.5 L103.7,463.5 L104.7,463.6 L105.7,463.6 L106.7,463.6 L107.7,463.7 L108.7,463.7 L109.7,463.8 L110.7,463.8 L111.7,463.8 L112.7,463.9 L113.7,463.9 L114.7,463.9 L115.7,464.0 L116.7,464.0 L117.7,464.1 L118.7,464.1 L119.7,464.1 L120.7,464.2 L121.7,464.2 L122.7,464.2 L123.7,464.3 L124.7,464.3 L125.7,464.3 L126.7,464.3 L127.7,464.4 L128.7,464.4 L129.7,464.4 L130.7,464.4 L131.7,464.5 L132.7,464.5 L133.7,464.5 L134.7,464.5 L135.7,464.5 L136.7,464.5 L137.7,464.5 L138.7,464.4 L139.7,464.3 L140.7,464.1 L141.7,463.9 L142.7,463.7 L143.7,463.4 L144.7,463.0 L145.7,462.7 L146.7,462.3 L147.7,461.9 L148.7,461.5 L149.7,461.1 L150.7,460.7 L151.7,460.1 L152.7,459.5 L153.7,458.8 L154.7,458.0 L155.7,457.2 L156.7,456.4 L157.7,455.6 L158.7,454.9 L159.7,454.2 L160.7,453.6 L161.7,452.9 L162.7,452.2 L163.7,451.5 L164.7,450.8 L165.7,450.2 L166.7,449.6 L167.7,449.1 L168.7,448.8 L169.7,448.5 L170.7,448.5 L171.7,448.7 L172.7,449.0 L173.7,449.4 L174.7,450.0 L175.7,450.7 L176.7,451.4 L177.7,452.2 L178.7,453.0 L179.7,453.8 L180.7,454.6 L181.7,455.5 L182.7,456.6 L183.7,457.8 L184.7,459.1 L185.7,460.3 L186.7,461.5 L187.7,462.7 L188.7,463.8 L189.7,464.7 L190.7,465.6 L191.7,466.5 L192.7,467.3 L193.7,468.1 L194.7,468.7 L195.7,469.1 L196.7,469.2 L197.7,469.3 L198.7,469.3 L199.7,469.3 L200.7,469.4 L201.7,469.4 L202.7,469.5 L203.7,469.5 L204.7,469.5 L205.7,469.6 L206.7,469.6 L207.7,469.7 L208.7,469.7 L209.7,469.7 L210.7,469.8 L211.7,469.8 L212.7,469.8 L213.7,469.8 L214.7,469.9 L215.7,469.9 L216.7,469.9 L217.7,469.9 L218.7,470.0 L219.7,470.0 L220.7,470.0 L221.7,470.0 L222.7,470.0 L223.7,470.1 L224.7,470.1 L225.7,470.1 L226.7,470.1 L227.7,470.1 L228.7,470.1 L229.7,470.2 L230.7,470.2 L231.7,470.2 L232.7,470.2 L233.7,470.2 L234.7,470.2 L235.7,470.2 L236.7,470.2 L237.7,470.2 L238.7,470.2 L239.7,470.2 L240.7,470.3 L241.7,470.3 L242.7,470.3 L243.7,470.3 L244.7,470.3 L245.7,470.3 L246.7,470.3 L247.7,470.3 L248.7,470.3 L249.7,470.3 L250.7,470.3 L251.7,470.3 L252.7,470.3 L253.7,470.3 L254.7,470.3 L255.7,470.3" fill="none" stroke="#4ea64e" stroke-width="1.7" stroke-linejoin="round" stroke-linecap="round" />
<path d="M30.7,464.9 L31.7,464.9 L32.7,464.9 L33.7,464.9 L34.7,464.8 L35.7,464.8 L36.7,464.8 L37.7,464.8 L38.7,464.7 L39.7,464.7 L40.7,464.6 L41.7,464.6 L42.7,464.5 L43.7,464.4 L44.7,464.4 L45.7,464.3 L46.7,464.2 L47.7,464.2 L48.7,464.1 L49.7,464.0 L50.7,463.9 L51.7,463.8 L52.7,463.7 L53.7,463.6 L54.7,463.5 L55.7,463.4 L56.7,463.3 L57.7,463.2 L58.7,463.1 L59.7,462.9 L60.7,462.8 L61.7,462.7 L62.7,462.6 L63.7,462.4 L64.7,462.3 L65.7,462.2 L66.7,462.0 L67.7,461.9 L68.7,461.7 L69.7,461.6 L70.7,461.5 L71.7,461.3 L72.7,461.2 L73.7,461.0 L74.7,460.9 L75.7,460.7 L76.7,460.5 L77.7,460.4 L78.7,460.2 L79.7,460.0 L80.7,459.8 L81.7,459.5 L82.7,459.2 L83.7,458.9 L84.7,458.6 L85.7,458.3 L86.7,458.0 L87.7,457.6 L88.7,457.2 L89.7,456.8 L90.7,456.4 L91.7,455.9 L92.7,455.4 L93.7,454.9 L94.7,454.3 L95.7,453.7 L96.7,453.0 L97.7,452.3 L98.7,451.6 L99.7,450.8 L100.7,450.0 L101.7,449.2 L102.7,448.3 L103.7,447.4 L104.7,446.5 L105.7,445.5 L106.7,444.3 L107.7,443.1 L108.7,441.7 L109.7,440.3 L110.7,438.8 L111.7,437.3 L112.7,435.8 L113.7,434.3 L114.7,432.9 L115.7,431.4 L116.7,430.1 L117.7,428.8 L118.7,427.7 L119.7,426.5 L120.7,425.4 L121.7,424.3 L122.7,423.2 L123.7,422.1 L124.7,421.1 L125.7,420.2 L126.7,419.3 L127.7,418.6 L128.7,417.8 L129.7,417.1 L130.7,416.4 L131.7,415.8 L132.7,415.5 L133.7,415.4 L134.7,415.5 L135.7,415.7 L136.7,416.0 L137.7,416.4 L138.7,416.8 L139.7,417.3 L140.7,417.8 L141.7,418.5 L142.7,419.3 L143.7,420.5 L144.7,421.8 L145.7,423.3 L146.7,424.8 L147.7,426.3 L148.7,427.8 L149.7,429.3 L150.7,430.8 L151.7,432.3 L152.7,434.0 L153.7,435.6 L154.7,437.3 L155.7,439.0 L156.7,440.7 L157.7,442.4 L158.7,444.0 L159.7,445.5 L160.7,447.0 L161.7,448.5 L162.7,449.9 L163.7,451.4 L164.7,452.9 L165.7,454.4 L166.7,455.8 L167.7,457.2 L168.7,458.4 L169.7,459.6 L170.7,460.7 L171.7,461.7 L172.7,462.5 L173.7,463.2 L174.7,463.9 L175.7,464.6 L176.7,465.2 L177.7,465.8 L178.7,466.3 L179.7,466.8 L180.7,467.3 L181.7,467.7 L182.7,468.0 L183.7,468.3 L184.7,468.5 L185.7,468.7 L186.7,468.9 L187.7,469.1 L188.7,469.3 L189.7,469.5 L190.7,469.6 L191.7,469.7 L192.7,469.8 L193.7,469.9 L194.7,470.0 L195.7,470.0 L196.7,470.0 L197.7,470.0 L198.7,470.0 L199.7,470.0 L200.7,470.1 L201.7,470.1 L202.7,470.1 L203.7,470.1 L204.7,470.1 L205.7,470.1 L206.7,470.1 L207.7,470.1 L208.7,470.1 L209.7,470.1 L210.7,470.1 L211.7,470.2 L212.7,470.2 L213.7,470.2 L214.7,470.2 L215.7,470.2 L216.7,470.2 L217.7,470.2 L218.7,470.2 L219.7,470.2 L220.7,470.2 L221.7,470.2 L222.7,470.2 L223.7,470.2 L224.7,470.2 L225.7,470.2 L226.7,470.2 L227.7,470.2 L228.7,470.3 L229.7,470.3 L230.7,470.3 L231.7,470.3 L232.7,470.3 L233.7,470.3 L234.7,470.3 L235.7,470.3 L236.7,470.3 L237.7,470.3 L238.7,470.3 L239.7,470.3 L240.7,470.3 L241.7,470.3 L242.7,470.3 L243.7,470.3 L244.7,470.3 L245.7,470.3 L246.7,470.3 L247.7,470.3 L248.7,470.3 L249.7,470.3 L250.7,470.3 L251.7,470.3 L252.7,470.3 L253.7,470.3 L254.7,470.3 L255.7,470.3" fill="none" stroke="#f28c38" stroke-width="1.7" stroke-linejoin="round" stroke-linecap="round" />
<line x1="144.8" y1="303" x2="144.8" y2="292" stroke="#000" stroke-width="1.3"/><path d="M141.6,293 L144.8,286.5 L148,293 Z" fill="#000"/>
<line x1="175.6" y1="328.6" x2="190" y2="328.6" stroke="#000" stroke-width="1.3"/><path d="M189,325.4 L195.5,328.6 L189,331.8 Z" fill="#000"/>
<path d="M305.0,410.4 L306.0,410.4 L307.0,410.3 L308.0,410.3 L309.0,410.3 L310.0,410.3 L311.0,410.3 L312.0,410.3 L313.0,410.3 L314.0,410.2 L315.0,410.2 L316.0,410.2 L317.0,410.2 L318.0,410.1 L319.0,410.1 L320.0,410.1 L321.0,410.1 L322.0,410.0 L323.0,410.0 L324.0,409.9 L325.0,409.9 L326.0,409.8 L327.0,409.8 L328.0,409.7 L329.0,409.6 L330.0,409.6 L331.0,409.5 L332.0,409.4 L333.0,409.3 L334.0,409.2 L335.0,409.0 L336.0,408.9 L337.0,408.7 L338.0,408.5 L339.0,408.3 L340.0,408.0 L341.0,407.7 L342.0,407.2 L343.0,406.7 L344.0,406.1 L345.0,405.3 L346.0,404.2 L347.0,403.0 L348.0,401.4 L349.0,399.4 L350.0,397.1 L351.0,394.3 L352.0,391.0 L353.0,387.1 L354.0,382.7 L355.0,377.8 L356.0,372.4 L357.0,366.6 L358.0,360.5 L359.0,354.4 L360.0,348.3 L361.0,342.5 L362.0,337.4 L363.0,333.2 L364.0,330.3 L365.0,328.8 L366.0,329.0 L367.0,330.8 L368.0,334.0 L369.0,338.4 L370.0,343.7 L371.0,349.6 L372.0,355.8 L373.0,362.0 L374.0,368.0 L375.0,373.8 L376.0,379.1 L377.0,383.9 L378.0,388.2 L379.0,392.0 L380.0,395.2 L381.0,398.0 L382.0,400.3 L383.0,402.2 L384.0,403.7 L385.0,404.9 L386.0,405.9 L387.0,406.7 L388.0,407.4 L389.0,407.9 L390.0,408.3 L391.0,408.7 L392.0,409.0 L393.0,409.2 L394.0,409.4 L395.0,409.6 L396.0,409.8 L397.0,409.9 L398.0,410.0 L399.0,410.1 L400.0,410.3 L401.0,410.3 L402.0,410.4 L403.0,410.5 L404.0,410.6 L405.0,410.7 L406.0,410.7 L407.0,410.8 L408.0,410.8 L409.0,410.9 L410.0,410.9 L411.0,410.9 L412.0,411.0 L413.0,411.0 L414.0,411.0 L415.0,411.0 L416.0,411.1 L417.0,411.1 L418.0,411.1 L419.0,411.1 L420.0,411.1 L421.0,411.1 L422.0,411.0 L423.0,411.0 L424.0,411.0 L425.0,411.0 L426.0,410.9 L427.0,410.9 L428.0,410.8 L429.0,410.8 L430.0,410.7 L431.0,410.6 L432.0,410.5 L433.0,410.4 L434.0,410.3 L435.0,410.2 L436.0,410.0 L437.0,409.9 L438.0,409.6 L439.0,409.4 L440.0,409.1 L441.0,408.8 L442.0,408.3 L443.0,407.8 L444.0,407.1 L445.0,406.3 L446.0,405.2 L447.0,403.9 L448.0,402.2 L449.0,400.2 L450.0,397.6 L451.0,394.6 L452.0,390.9 L453.0,386.6 L454.0,381.5 L455.0,375.8 L456.0,369.4 L457.0,362.4 L458.0,354.9 L459.0,347.1 L460.0,339.1 L461.0,331.3 L462.0,323.9 L463.0,317.4 L464.0,312.2 L465.0,308.6 L466.0,307.0 L467.0,307.4 L468.0,309.9 L469.0,314.3 L470.0,320.1 L471.0,327.1 L472.0,334.7 L473.0,342.7 L474.0,350.7 L475.0,358.5 L476.0,365.9 L477.0,372.7 L478.0,378.9 L479.0,384.4 L480.0,389.2 L481.0,393.3 L482.0,396.8 L483.0,399.8 L484.0,402.2 L485.0,404.1 L486.0,405.7 L487.0,407.0 L488.0,408.0 L489.0,408.8 L490.0,409.5 L491.0,410.1 L492.0,410.5 L493.0,410.9 L494.0,411.3 L495.0,411.6 L496.0,411.8 L497.0,412.0 L498.0,412.3 L499.0,412.4 L500.0,412.6 L501.0,412.8 L502.0,412.9 L503.0,413.1 L504.0,413.2 L505.0,413.4 L506.0,413.5 L507.0,413.6 L508.0,413.7 L509.0,413.8 L510.0,413.9 L511.0,414.0 L512.0,414.1 L513.0,414.2 L514.0,414.3 L515.0,414.4 L516.0,414.4 L517.0,414.5 L518.0,414.6 L519.0,414.7 L520.0,414.7 L521.0,414.8 L522.0,414.9 L523.0,414.9 L524.0,415.0 L525.0,415.1 L526.0,415.1 L527.0,415.2 L528.0,415.2 L529.0,415.3 L530.0,415.3" fill="none" stroke="#ff0000" stroke-width="2" stroke-linejoin="round" stroke-linecap="round" />
<path d="M305.0,460.5 L306.0,460.5 L307.0,460.5 L308.0,460.5 L309.0,460.5 L310.0,460.5 L311.0,460.5 L312.0,460.5 L313.0,460.5 L314.0,460.5 L315.0,460.5 L316.0,460.4 L317.0,460.4 L318.0,460.4 L319.0,460.4 L320.0,460.4 L321.0,460.4 L322.0,460.3 L323.0,460.3 L324.0,460.3 L325.0,460.2 L326.0,460.2 L327.0,460.2 L328.0,460.1 L329.0,460.1 L330.0,460.0 L331.0,459.9 L332.0,459.9 L333.0,459.8 L334.0,459.7 L335.0,459.6 L336.0,459.5 L337.0,459.4 L338.0,459.2 L339.0,459.0 L340.0,458.8 L341.0,458.6 L342.0,458.2 L343.0,457.8 L344.0,457.3 L345.0,456.7 L346.0,455.9 L347.0,454.9 L348.0,453.7 L349.0,452.1 L350.0,450.3 L351.0,448.1 L352.0,445.5 L353.0,442.5 L354.0,439.0 L355.0,435.2 L356.0,431.0 L357.0,426.4 L358.0,421.7 L359.0,416.8 L360.0,412.0 L361.0,407.5 L362.0,403.5 L363.0,400.2 L364.0,397.9 L365.0,396.8 L366.0,396.9 L367.0,398.3 L368.0,400.9 L369.0,404.3 L370.0,408.5 L371.0,413.1 L372.0,418.0 L373.0,422.8 L374.0,427.6 L375.0,432.1 L376.0,436.3 L377.0,440.1 L378.0,443.5 L379.0,446.4 L380.0,449.0 L381.0,451.1 L382.0,452.9 L383.0,454.4 L384.0,455.6 L385.0,456.6 L386.0,457.4 L387.0,458.0 L388.0,458.5 L389.0,458.9 L390.0,459.3 L391.0,459.5 L392.0,459.8 L393.0,460.0 L394.0,460.1 L395.0,460.3 L396.0,460.4 L397.0,460.5 L398.0,460.6 L399.0,460.7 L400.0,460.8 L401.0,460.9 L402.0,461.0 L403.0,461.0 L404.0,461.1 L405.0,461.1 L406.0,461.2 L407.0,461.2 L408.0,461.3 L409.0,461.3 L410.0,461.3 L411.0,461.4 L412.0,461.4 L413.0,461.4 L414.0,461.4 L415.0,461.5 L416.0,461.5 L417.0,461.5 L418.0,461.5 L419.0,461.5 L420.0,461.5 L421.0,461.5 L422.0,461.5 L423.0,461.5 L424.0,461.4 L425.0,461.4 L426.0,461.4 L427.0,461.4 L428.0,461.3 L429.0,461.3 L430.0,461.2 L431.0,461.2 L432.0,461.1 L433.0,461.0 L434.0,460.9 L435.0,460.8 L436.0,460.7 L437.0,460.5 L438.0,460.4 L439.0,460.2 L440.0,459.9 L441.0,459.7 L442.0,459.3 L443.0,458.9 L444.0,458.3 L445.0,457.6 L446.0,456.8 L447.0,455.7 L448.0,454.3 L449.0,452.6 L450.0,450.5 L451.0,448.0 L452.0,445.0 L453.0,441.5 L454.0,437.4 L455.0,432.7 L456.0,427.5 L457.0,421.8 L458.0,415.7 L459.0,409.4 L460.0,403.0 L461.0,396.7 L462.0,390.9 L463.0,385.7 L464.0,381.6 L465.0,378.9 L466.0,377.8 L467.0,378.3 L468.0,380.5 L469.0,384.1 L470.0,388.9 L471.0,394.6 L472.0,400.8 L473.0,407.2 L474.0,413.7 L475.0,419.9 L476.0,425.8 L477.0,431.3 L478.0,436.2 L479.0,440.6 L480.0,444.4 L481.0,447.7 L482.0,450.4 L483.0,452.7 L484.0,454.6 L485.0,456.2 L486.0,457.4 L487.0,458.4 L488.0,459.2 L489.0,459.9 L490.0,460.4 L491.0,460.9 L492.0,461.2 L493.0,461.5 L494.0,461.8 L495.0,462.0 L496.0,462.3 L497.0,462.4 L498.0,462.6 L499.0,462.8 L500.0,462.9 L501.0,463.0 L502.0,463.2 L503.0,463.3 L504.0,463.4 L505.0,463.5 L506.0,463.6 L507.0,463.7 L508.0,463.8 L509.0,463.9 L510.0,464.0 L511.0,464.0 L512.0,464.1 L513.0,464.2 L514.0,464.2 L515.0,464.3 L516.0,464.4 L517.0,464.4 L518.0,464.5 L519.0,464.6 L520.0,464.6 L521.0,464.7 L522.0,464.7 L523.0,464.8 L524.0,464.8 L525.0,464.9 L526.0,464.9 L527.0,465.0 L528.0,465.0 L529.0,465.1 L530.0,465.1" fill="none" stroke="#0000ff" stroke-width="2" stroke-linejoin="round" stroke-linecap="round" />
<text x="31.4" y="21.2" style="font-size:11.8px;fill:#151515;stroke:#151515;stroke-width:0.12px" textLength="52.8" lengthAdjust="spacingAndGlyphs" >(a) Fe 2<tspan font-style="italic">p</tspan></text>
<text x="93.6" y="57.1" style="font-size:11.4px;fill:#151515;stroke:#151515;stroke-width:0.12px" textLength="33.8" lengthAdjust="spacingAndGlyphs" >Fe 2<tspan font-style="italic">p</tspan></text>
<text x="127.5" y="60" style="font-size:8.5px;fill:#151515;stroke:#151515;stroke-width:0.12px" textLength="12.8" lengthAdjust="spacingAndGlyphs" >1/2</text>
<text x="39.6" y="80.7" style="font-size:11.1px;fill:#151515;stroke:#151515;stroke-width:0.12px" textLength="47.2" lengthAdjust="spacingAndGlyphs" >satellite</text>
<text x="129.2" y="80.9" style="font-size:11.1px;fill:#151515;stroke:#151515;stroke-width:0.12px" textLength="47" lengthAdjust="spacingAndGlyphs" >satellite</text>
<text x="175.5" y="46.2" style="font-size:11.4px;fill:#151515;stroke:#151515;stroke-width:0.12px" textLength="33.8" lengthAdjust="spacingAndGlyphs" >Fe 2<tspan font-style="italic">p</tspan></text>
<text x="209.2" y="49" style="font-size:8.5px;fill:#151515;stroke:#151515;stroke-width:0.12px" textLength="12.8" lengthAdjust="spacingAndGlyphs" >3/2</text>
<text x="32.2" y="117.5" style="font-size:11.2px;fill:#ff2a2a;stroke:#ff2a2a;stroke-width:0.12px" textLength="94" lengthAdjust="spacingAndGlyphs" >15%BiOCl/FeOCl</text>
<text x="32.4" y="188.2" style="font-size:10.4px;fill:#151515;stroke:#151515;stroke-width:0.12px" textLength="35" lengthAdjust="spacingAndGlyphs" >FeOCl</text>
<text x="307.4" y="21.2" style="font-size:11.8px;fill:#151515;stroke:#151515;stroke-width:0.12px" textLength="48.3" lengthAdjust="spacingAndGlyphs" >(b) Cl 2<tspan font-style="italic">p</tspan></text>
<text x="305.2" y="86.9" style="font-size:10.2px;fill:#3535ff;stroke:#3535ff;stroke-width:0.12px" textLength="31" lengthAdjust="spacingAndGlyphs" >BiOCl</text>
<text x="392.7" y="50.3" style="font-size:11.4px;fill:#151515;stroke:#151515;stroke-width:0.12px" textLength="28.8" lengthAdjust="spacingAndGlyphs" >Cl 2<tspan font-style="italic">p</tspan></text>
<text x="421.6" y="53.2" style="font-size:8.5px;fill:#151515;stroke:#151515;stroke-width:0.12px" textLength="12.8" lengthAdjust="spacingAndGlyphs" >1/2</text>
<text x="454.9" y="23.7" style="font-size:11.4px;fill:#151515;stroke:#151515;stroke-width:0.12px" textLength="28.8" lengthAdjust="spacingAndGlyphs" >Cl 2<tspan font-style="italic">p</tspan></text>
<text x="483.8" y="26.6" style="font-size:8.5px;fill:#151515;stroke:#151515;stroke-width:0.12px" textLength="12.8" lengthAdjust="spacingAndGlyphs" >3/2</text>
<text x="305.3" y="150.3" style="font-size:10.8px;fill:#ff2a2a;stroke:#ff2a2a;stroke-width:0.12px" textLength="91.5" lengthAdjust="spacingAndGlyphs" >15%BiOCl/FeOCl</text>
<text x="306.8" y="200.1" style="font-size:10.4px;fill:#151515;stroke:#151515;stroke-width:0.12px" textLength="34" lengthAdjust="spacingAndGlyphs" >FeOCl</text>
<text x="32.2" y="279.3" style="font-size:11.8px;fill:#151515;stroke:#151515;stroke-width:0.12px" textLength="45" lengthAdjust="spacingAndGlyphs" >(c) O 1<tspan font-style="italic">s</tspan></text>
<text x="134.7" y="283.8" style="font-size:10.5px;fill:#151515;stroke:#151515;stroke-width:0.12px" textLength="8.4" lengthAdjust="spacingAndGlyphs" >H</text>
<text x="143.1" y="286.3" style="font-size:7.3px;fill:#151515;stroke:#151515;stroke-width:0.12px" textLength="5" lengthAdjust="spacingAndGlyphs" >2</text>
<text x="148.1" y="283.8" style="font-size:10.5px;fill:#151515;stroke:#151515;stroke-width:0.12px" textLength="9.2" lengthAdjust="spacingAndGlyphs" >O</text>
<text x="31.5" y="335.3" style="font-size:10.8px;fill:#ff2a2a;stroke:#ff2a2a;stroke-width:0.12px" textLength="92" lengthAdjust="spacingAndGlyphs" >15%BiOCl/FeOCl</text>
<text x="197.4" y="325.8" style="font-size:10.5px;fill:#151515;stroke:#151515;stroke-width:0.12px" textLength="29" lengthAdjust="spacingAndGlyphs" >Fe-O</text>
<text x="198.9" y="343.1" style="font-size:10.5px;fill:#151515;stroke:#151515;stroke-width:0.12px" textLength="25.7" lengthAdjust="spacingAndGlyphs" >Bi-O</text>
<text x="33.7" y="457.8" style="font-size:10.4px;fill:#151515;stroke:#151515;stroke-width:0.12px" textLength="34" lengthAdjust="spacingAndGlyphs" >FeOCl</text>
<text x="307.2" y="281" style="font-size:11.8px;fill:#151515;stroke:#151515;stroke-width:0.12px" textLength="46" lengthAdjust="spacingAndGlyphs" >(d) Bi 4<tspan font-style="italic">f</tspan></text>
<text x="306.1" y="319.1" style="font-size:10.8px;fill:#ff2a2a;stroke:#ff2a2a;stroke-width:0.12px" textLength="91.5" lengthAdjust="spacingAndGlyphs" >15%BiOCl/FeOCl</text>
<text x="307.5" y="453.6" style="font-size:10.2px;fill:#3535ff;stroke:#3535ff;stroke-width:0.12px" textLength="29.8" lengthAdjust="spacingAndGlyphs" >BiOCl</text>
</svg></body></html>
